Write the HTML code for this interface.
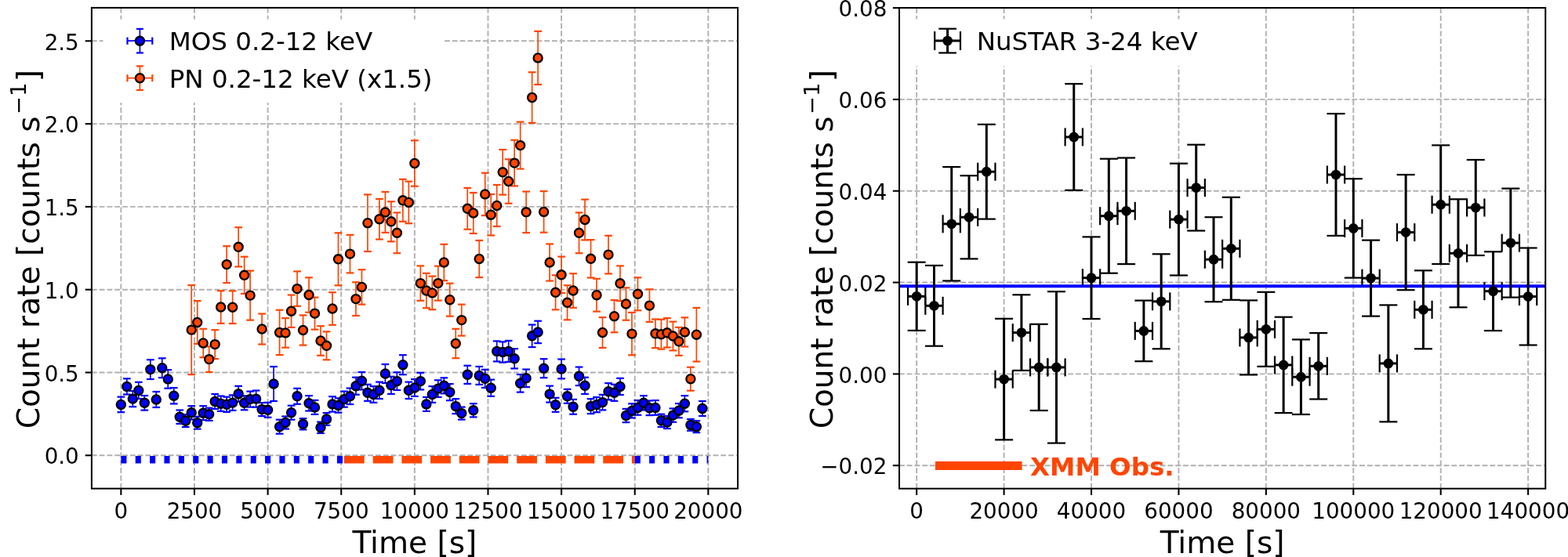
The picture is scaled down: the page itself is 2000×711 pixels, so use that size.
<!DOCTYPE html>
<html><head><meta charset="utf-8"><title>Light curves</title><style>html,body{margin:0;padding:0;background:#fff;width:2000px;height:711px;overflow:hidden}</style></head><body>
<svg width="2000" height="711" viewBox="0 0 2000 711" style="display:block">
<rect width="2000" height="711" fill="#fff"/>
<g font-family="'DejaVu Sans', 'Liberation Sans', sans-serif" fill="#000">
<line x1="154.35" y1="10" x2="154.35" y2="623.6" stroke="#b0b0b0" stroke-width="1.9" stroke-dasharray="6.86 2.925"/>
<line x1="247.97" y1="10" x2="247.97" y2="623.6" stroke="#b0b0b0" stroke-width="1.9" stroke-dasharray="6.86 2.925"/>
<line x1="341.6" y1="10" x2="341.6" y2="623.6" stroke="#b0b0b0" stroke-width="1.9" stroke-dasharray="6.86 2.925"/>
<line x1="435.23" y1="10" x2="435.23" y2="623.6" stroke="#b0b0b0" stroke-width="1.9" stroke-dasharray="6.86 2.925"/>
<line x1="528.85" y1="10" x2="528.85" y2="623.6" stroke="#b0b0b0" stroke-width="1.9" stroke-dasharray="6.86 2.925"/>
<line x1="622.48" y1="10" x2="622.48" y2="623.6" stroke="#b0b0b0" stroke-width="1.9" stroke-dasharray="6.86 2.925"/>
<line x1="716.1" y1="10" x2="716.1" y2="623.6" stroke="#b0b0b0" stroke-width="1.9" stroke-dasharray="6.86 2.925"/>
<line x1="809.73" y1="10" x2="809.73" y2="623.6" stroke="#b0b0b0" stroke-width="1.9" stroke-dasharray="6.86 2.925"/>
<line x1="903.35" y1="10" x2="903.35" y2="623.6" stroke="#b0b0b0" stroke-width="1.9" stroke-dasharray="6.86 2.925"/>
<line x1="116.9" y1="581.28" x2="940.8" y2="581.28" stroke="#b0b0b0" stroke-width="1.9" stroke-dasharray="6.86 2.925"/>
<line x1="116.9" y1="475.49" x2="940.8" y2="475.49" stroke="#b0b0b0" stroke-width="1.9" stroke-dasharray="6.86 2.925"/>
<line x1="116.9" y1="369.7" x2="940.8" y2="369.7" stroke="#b0b0b0" stroke-width="1.9" stroke-dasharray="6.86 2.925"/>
<line x1="116.9" y1="263.9" x2="940.8" y2="263.9" stroke="#b0b0b0" stroke-width="1.9" stroke-dasharray="6.86 2.925"/>
<line x1="116.9" y1="158.11" x2="940.8" y2="158.11" stroke="#b0b0b0" stroke-width="1.9" stroke-dasharray="6.86 2.925"/>
<line x1="116.9" y1="52.32" x2="940.8" y2="52.32" stroke="#b0b0b0" stroke-width="1.9" stroke-dasharray="6.86 2.925"/>
<line x1="154.35" y1="586.7" x2="438.97" y2="586.7" stroke="#0000ff" stroke-width="9.5" stroke-dasharray="7.1 11.27"/>
<line x1="438.97" y1="586.7" x2="809.73" y2="586.7" stroke="#ff4500" stroke-width="9.5" stroke-dasharray="25.8 10.9"/>
<line x1="809.73" y1="586.7" x2="903.35" y2="586.7" stroke="#0000ff" stroke-width="9.5" stroke-dasharray="7.1 11.27"/>
<line x1="149.5" y1="506.6" x2="159.2" y2="506.6" stroke="#0000ff" stroke-width="2.2"/>
<line x1="149.5" y1="526.2" x2="159.2" y2="526.2" stroke="#0000ff" stroke-width="2.2"/>
<line x1="156.99" y1="483.3" x2="166.69" y2="483.3" stroke="#0000ff" stroke-width="2.2"/>
<line x1="156.99" y1="503.5" x2="166.69" y2="503.5" stroke="#0000ff" stroke-width="2.2"/>
<line x1="164.48" y1="499" x2="174.18" y2="499" stroke="#0000ff" stroke-width="2.2"/>
<line x1="164.48" y1="519.2" x2="174.18" y2="519.2" stroke="#0000ff" stroke-width="2.2"/>
<line x1="171.97" y1="487.8" x2="181.67" y2="487.8" stroke="#0000ff" stroke-width="2.2"/>
<line x1="171.97" y1="509" x2="181.67" y2="509" stroke="#0000ff" stroke-width="2.2"/>
<line x1="179.46" y1="505" x2="189.16" y2="505" stroke="#0000ff" stroke-width="2.2"/>
<line x1="179.46" y1="523.6" x2="189.16" y2="523.6" stroke="#0000ff" stroke-width="2.2"/>
<line x1="186.95" y1="459.2" x2="196.65" y2="459.2" stroke="#0000ff" stroke-width="2.2"/>
<line x1="186.95" y1="484" x2="196.65" y2="484" stroke="#0000ff" stroke-width="2.2"/>
<line x1="194.44" y1="500" x2="204.14" y2="500" stroke="#0000ff" stroke-width="2.2"/>
<line x1="194.44" y1="520" x2="204.14" y2="520" stroke="#0000ff" stroke-width="2.2"/>
<line x1="201.93" y1="457.3" x2="211.63" y2="457.3" stroke="#0000ff" stroke-width="2.2"/>
<line x1="201.93" y1="482.1" x2="211.63" y2="482.1" stroke="#0000ff" stroke-width="2.2"/>
<line x1="209.42" y1="472.1" x2="219.12" y2="472.1" stroke="#0000ff" stroke-width="2.2"/>
<line x1="209.42" y1="495.7" x2="219.12" y2="495.7" stroke="#0000ff" stroke-width="2.2"/>
<line x1="216.91" y1="495" x2="226.61" y2="495" stroke="#0000ff" stroke-width="2.2"/>
<line x1="216.91" y1="515.4" x2="226.61" y2="515.4" stroke="#0000ff" stroke-width="2.2"/>
<line x1="224.4" y1="523.5" x2="234.1" y2="523.5" stroke="#0000ff" stroke-width="2.2"/>
<line x1="224.4" y1="540.9" x2="234.1" y2="540.9" stroke="#0000ff" stroke-width="2.2"/>
<line x1="231.89" y1="529.3" x2="241.59" y2="529.3" stroke="#0000ff" stroke-width="2.2"/>
<line x1="231.89" y1="545.1" x2="241.59" y2="545.1" stroke="#0000ff" stroke-width="2.2"/>
<line x1="239.38" y1="518.2" x2="249.08" y2="518.2" stroke="#0000ff" stroke-width="2.2"/>
<line x1="239.38" y1="535.4" x2="249.08" y2="535.4" stroke="#0000ff" stroke-width="2.2"/>
<line x1="246.87" y1="531.8" x2="256.57" y2="531.8" stroke="#0000ff" stroke-width="2.2"/>
<line x1="246.87" y1="547.6" x2="256.57" y2="547.6" stroke="#0000ff" stroke-width="2.2"/>
<line x1="254.36" y1="518.2" x2="264.06" y2="518.2" stroke="#0000ff" stroke-width="2.2"/>
<line x1="254.36" y1="536.2" x2="264.06" y2="536.2" stroke="#0000ff" stroke-width="2.2"/>
<line x1="261.85" y1="520.7" x2="271.55" y2="520.7" stroke="#0000ff" stroke-width="2.2"/>
<line x1="261.85" y1="536.9" x2="271.55" y2="536.9" stroke="#0000ff" stroke-width="2.2"/>
<line x1="269.34" y1="503" x2="279.04" y2="503" stroke="#0000ff" stroke-width="2.2"/>
<line x1="269.34" y1="522" x2="279.04" y2="522" stroke="#0000ff" stroke-width="2.2"/>
<line x1="276.83" y1="505.51" x2="286.53" y2="505.51" stroke="#0000ff" stroke-width="2.2"/>
<line x1="276.83" y1="524.89" x2="286.53" y2="524.89" stroke="#0000ff" stroke-width="2.2"/>
<line x1="284.32" y1="506.68" x2="294.02" y2="506.68" stroke="#0000ff" stroke-width="2.2"/>
<line x1="284.32" y1="525.92" x2="294.02" y2="525.92" stroke="#0000ff" stroke-width="2.2"/>
<line x1="291.81" y1="504.34" x2="301.51" y2="504.34" stroke="#0000ff" stroke-width="2.2"/>
<line x1="291.81" y1="523.86" x2="301.51" y2="523.86" stroke="#0000ff" stroke-width="2.2"/>
<line x1="299.3" y1="492.8" x2="309" y2="492.8" stroke="#0000ff" stroke-width="2.2"/>
<line x1="299.3" y1="512.8" x2="309" y2="512.8" stroke="#0000ff" stroke-width="2.2"/>
<line x1="306.79" y1="505.3" x2="316.49" y2="505.3" stroke="#0000ff" stroke-width="2.2"/>
<line x1="306.79" y1="523.3" x2="316.49" y2="523.3" stroke="#0000ff" stroke-width="2.2"/>
<line x1="314.28" y1="499.6" x2="323.98" y2="499.6" stroke="#0000ff" stroke-width="2.2"/>
<line x1="314.28" y1="519.6" x2="323.98" y2="519.6" stroke="#0000ff" stroke-width="2.2"/>
<line x1="321.77" y1="498.5" x2="331.47" y2="498.5" stroke="#0000ff" stroke-width="2.2"/>
<line x1="321.77" y1="519.7" x2="331.47" y2="519.7" stroke="#0000ff" stroke-width="2.2"/>
<line x1="329.26" y1="514.1" x2="338.96" y2="514.1" stroke="#0000ff" stroke-width="2.2"/>
<line x1="329.26" y1="531.1" x2="338.96" y2="531.1" stroke="#0000ff" stroke-width="2.2"/>
<line x1="336.75" y1="513.8" x2="346.45" y2="513.8" stroke="#0000ff" stroke-width="2.2"/>
<line x1="336.75" y1="532.8" x2="346.45" y2="532.8" stroke="#0000ff" stroke-width="2.2"/>
<line x1="344.24" y1="468" x2="353.94" y2="468" stroke="#0000ff" stroke-width="2.2"/>
<line x1="344.24" y1="512" x2="353.94" y2="512" stroke="#0000ff" stroke-width="2.2"/>
<line x1="351.73" y1="535.7" x2="361.43" y2="535.7" stroke="#0000ff" stroke-width="2.2"/>
<line x1="351.73" y1="553.7" x2="361.43" y2="553.7" stroke="#0000ff" stroke-width="2.2"/>
<line x1="359.22" y1="531.5" x2="368.92" y2="531.5" stroke="#0000ff" stroke-width="2.2"/>
<line x1="359.22" y1="547.5" x2="368.92" y2="547.5" stroke="#0000ff" stroke-width="2.2"/>
<line x1="366.71" y1="517.7" x2="376.41" y2="517.7" stroke="#0000ff" stroke-width="2.2"/>
<line x1="366.71" y1="535.7" x2="376.41" y2="535.7" stroke="#0000ff" stroke-width="2.2"/>
<line x1="374.2" y1="495.8" x2="383.9" y2="495.8" stroke="#0000ff" stroke-width="2.2"/>
<line x1="374.2" y1="515.8" x2="383.9" y2="515.8" stroke="#0000ff" stroke-width="2.2"/>
<line x1="381.69" y1="534.2" x2="391.39" y2="534.2" stroke="#0000ff" stroke-width="2.2"/>
<line x1="381.69" y1="548.4" x2="391.39" y2="548.4" stroke="#0000ff" stroke-width="2.2"/>
<line x1="389.18" y1="505.1" x2="398.88" y2="505.1" stroke="#0000ff" stroke-width="2.2"/>
<line x1="389.18" y1="524.5" x2="398.88" y2="524.5" stroke="#0000ff" stroke-width="2.2"/>
<line x1="396.67" y1="510.9" x2="406.37" y2="510.9" stroke="#0000ff" stroke-width="2.2"/>
<line x1="396.67" y1="528.9" x2="406.37" y2="528.9" stroke="#0000ff" stroke-width="2.2"/>
<line x1="404.16" y1="538.6" x2="413.86" y2="538.6" stroke="#0000ff" stroke-width="2.2"/>
<line x1="404.16" y1="553" x2="413.86" y2="553" stroke="#0000ff" stroke-width="2.2"/>
<line x1="411.65" y1="527.1" x2="421.35" y2="527.1" stroke="#0000ff" stroke-width="2.2"/>
<line x1="411.65" y1="542.9" x2="421.35" y2="542.9" stroke="#0000ff" stroke-width="2.2"/>
<line x1="419.14" y1="506.2" x2="428.84" y2="506.2" stroke="#0000ff" stroke-width="2.2"/>
<line x1="419.14" y1="525.6" x2="428.84" y2="525.6" stroke="#0000ff" stroke-width="2.2"/>
<line x1="426.63" y1="508.3" x2="436.33" y2="508.3" stroke="#0000ff" stroke-width="2.2"/>
<line x1="426.63" y1="526.7" x2="436.33" y2="526.7" stroke="#0000ff" stroke-width="2.2"/>
<line x1="434.12" y1="499.55" x2="443.82" y2="499.55" stroke="#0000ff" stroke-width="2.2"/>
<line x1="434.12" y1="519.65" x2="443.82" y2="519.65" stroke="#0000ff" stroke-width="2.2"/>
<line x1="441.61" y1="495.52" x2="451.31" y2="495.52" stroke="#0000ff" stroke-width="2.2"/>
<line x1="441.61" y1="516.08" x2="451.31" y2="516.08" stroke="#0000ff" stroke-width="2.2"/>
<line x1="449.1" y1="481.67" x2="458.8" y2="481.67" stroke="#0000ff" stroke-width="2.2"/>
<line x1="449.1" y1="503.73" x2="458.8" y2="503.73" stroke="#0000ff" stroke-width="2.2"/>
<line x1="456.59" y1="475" x2="466.29" y2="475" stroke="#0000ff" stroke-width="2.2"/>
<line x1="456.59" y1="497.4" x2="466.29" y2="497.4" stroke="#0000ff" stroke-width="2.2"/>
<line x1="464.08" y1="490.76" x2="473.78" y2="490.76" stroke="#0000ff" stroke-width="2.2"/>
<line x1="464.08" y1="511.84" x2="473.78" y2="511.84" stroke="#0000ff" stroke-width="2.2"/>
<line x1="471.57" y1="493.09" x2="481.27" y2="493.09" stroke="#0000ff" stroke-width="2.2"/>
<line x1="471.57" y1="513.91" x2="481.27" y2="513.91" stroke="#0000ff" stroke-width="2.2"/>
<line x1="479.06" y1="487.59" x2="488.76" y2="487.59" stroke="#0000ff" stroke-width="2.2"/>
<line x1="479.06" y1="509.01" x2="488.76" y2="509.01" stroke="#0000ff" stroke-width="2.2"/>
<line x1="486.55" y1="465" x2="496.25" y2="465" stroke="#0000ff" stroke-width="2.2"/>
<line x1="486.55" y1="489" x2="496.25" y2="489" stroke="#0000ff" stroke-width="2.2"/>
<line x1="494.04" y1="480.72" x2="503.74" y2="480.72" stroke="#0000ff" stroke-width="2.2"/>
<line x1="494.04" y1="502.88" x2="503.74" y2="502.88" stroke="#0000ff" stroke-width="2.2"/>
<line x1="501.53" y1="475.25" x2="511.23" y2="475.25" stroke="#0000ff" stroke-width="2.2"/>
<line x1="501.53" y1="497.95" x2="511.23" y2="497.95" stroke="#0000ff" stroke-width="2.2"/>
<line x1="509.02" y1="453.2" x2="518.72" y2="453.2" stroke="#0000ff" stroke-width="2.2"/>
<line x1="509.02" y1="478.2" x2="518.72" y2="478.2" stroke="#0000ff" stroke-width="2.2"/>
<line x1="516.51" y1="487.59" x2="526.21" y2="487.59" stroke="#0000ff" stroke-width="2.2"/>
<line x1="516.51" y1="509.01" x2="526.21" y2="509.01" stroke="#0000ff" stroke-width="2.2"/>
<line x1="524" y1="484.1" x2="533.7" y2="484.1" stroke="#0000ff" stroke-width="2.2"/>
<line x1="524" y1="505.9" x2="533.7" y2="505.9" stroke="#0000ff" stroke-width="2.2"/>
<line x1="531.49" y1="475.8" x2="541.19" y2="475.8" stroke="#0000ff" stroke-width="2.2"/>
<line x1="531.49" y1="497.4" x2="541.19" y2="497.4" stroke="#0000ff" stroke-width="2.2"/>
<line x1="538.98" y1="506.9" x2="548.68" y2="506.9" stroke="#0000ff" stroke-width="2.2"/>
<line x1="538.98" y1="524.9" x2="548.68" y2="524.9" stroke="#0000ff" stroke-width="2.2"/>
<line x1="546.47" y1="493.09" x2="556.17" y2="493.09" stroke="#0000ff" stroke-width="2.2"/>
<line x1="546.47" y1="513.91" x2="556.17" y2="513.91" stroke="#0000ff" stroke-width="2.2"/>
<line x1="553.96" y1="485.26" x2="563.66" y2="485.26" stroke="#0000ff" stroke-width="2.2"/>
<line x1="553.96" y1="506.94" x2="563.66" y2="506.94" stroke="#0000ff" stroke-width="2.2"/>
<line x1="561.45" y1="482.3" x2="571.15" y2="482.3" stroke="#0000ff" stroke-width="2.2"/>
<line x1="561.45" y1="502.3" x2="571.15" y2="502.3" stroke="#0000ff" stroke-width="2.2"/>
<line x1="568.94" y1="490.02" x2="578.64" y2="490.02" stroke="#0000ff" stroke-width="2.2"/>
<line x1="568.94" y1="511.18" x2="578.64" y2="511.18" stroke="#0000ff" stroke-width="2.2"/>
<line x1="576.43" y1="509.13" x2="586.13" y2="509.13" stroke="#0000ff" stroke-width="2.2"/>
<line x1="576.43" y1="528.07" x2="586.13" y2="528.07" stroke="#0000ff" stroke-width="2.2"/>
<line x1="583.92" y1="519.6" x2="593.62" y2="519.6" stroke="#0000ff" stroke-width="2.2"/>
<line x1="583.92" y1="535.6" x2="593.62" y2="535.6" stroke="#0000ff" stroke-width="2.2"/>
<line x1="591.41" y1="466.7" x2="601.11" y2="466.7" stroke="#0000ff" stroke-width="2.2"/>
<line x1="591.41" y1="489.9" x2="601.11" y2="489.9" stroke="#0000ff" stroke-width="2.2"/>
<line x1="598.9" y1="515.2" x2="608.6" y2="515.2" stroke="#0000ff" stroke-width="2.2"/>
<line x1="598.9" y1="532.4" x2="608.6" y2="532.4" stroke="#0000ff" stroke-width="2.2"/>
<line x1="606.39" y1="467.9" x2="616.09" y2="467.9" stroke="#0000ff" stroke-width="2.2"/>
<line x1="606.39" y1="490.9" x2="616.09" y2="490.9" stroke="#0000ff" stroke-width="2.2"/>
<line x1="613.88" y1="471.77" x2="623.58" y2="471.77" stroke="#0000ff" stroke-width="2.2"/>
<line x1="613.88" y1="494.83" x2="623.58" y2="494.83" stroke="#0000ff" stroke-width="2.2"/>
<line x1="621.37" y1="484.6" x2="631.07" y2="484.6" stroke="#0000ff" stroke-width="2.2"/>
<line x1="621.37" y1="505.8" x2="631.07" y2="505.8" stroke="#0000ff" stroke-width="2.2"/>
<line x1="628.86" y1="435.4" x2="638.56" y2="435.4" stroke="#0000ff" stroke-width="2.2"/>
<line x1="628.86" y1="461.4" x2="638.56" y2="461.4" stroke="#0000ff" stroke-width="2.2"/>
<line x1="636.35" y1="436.37" x2="646.05" y2="436.37" stroke="#0000ff" stroke-width="2.2"/>
<line x1="636.35" y1="462.63" x2="646.05" y2="462.63" stroke="#0000ff" stroke-width="2.2"/>
<line x1="643.84" y1="434.9" x2="653.54" y2="434.9" stroke="#0000ff" stroke-width="2.2"/>
<line x1="643.84" y1="461.9" x2="653.54" y2="461.9" stroke="#0000ff" stroke-width="2.2"/>
<line x1="651.33" y1="445.2" x2="661.03" y2="445.2" stroke="#0000ff" stroke-width="2.2"/>
<line x1="651.33" y1="470.4" x2="661.03" y2="470.4" stroke="#0000ff" stroke-width="2.2"/>
<line x1="658.82" y1="478" x2="668.52" y2="478" stroke="#0000ff" stroke-width="2.2"/>
<line x1="658.82" y1="500.6" x2="668.52" y2="500.6" stroke="#0000ff" stroke-width="2.2"/>
<line x1="666.31" y1="471.5" x2="676.01" y2="471.5" stroke="#0000ff" stroke-width="2.2"/>
<line x1="666.31" y1="494.1" x2="676.01" y2="494.1" stroke="#0000ff" stroke-width="2.2"/>
<line x1="673.8" y1="414.5" x2="683.5" y2="414.5" stroke="#0000ff" stroke-width="2.2"/>
<line x1="673.8" y1="443.1" x2="683.5" y2="443.1" stroke="#0000ff" stroke-width="2.2"/>
<line x1="681.29" y1="409.7" x2="690.99" y2="409.7" stroke="#0000ff" stroke-width="2.2"/>
<line x1="681.29" y1="438.1" x2="690.99" y2="438.1" stroke="#0000ff" stroke-width="2.2"/>
<line x1="688.78" y1="458.2" x2="698.48" y2="458.2" stroke="#0000ff" stroke-width="2.2"/>
<line x1="688.78" y1="482.2" x2="698.48" y2="482.2" stroke="#0000ff" stroke-width="2.2"/>
<line x1="696.27" y1="492.6" x2="705.97" y2="492.6" stroke="#0000ff" stroke-width="2.2"/>
<line x1="696.27" y1="513.6" x2="705.97" y2="513.6" stroke="#0000ff" stroke-width="2.2"/>
<line x1="703.76" y1="507.8" x2="713.46" y2="507.8" stroke="#0000ff" stroke-width="2.2"/>
<line x1="703.76" y1="525.8" x2="713.46" y2="525.8" stroke="#0000ff" stroke-width="2.2"/>
<line x1="711.25" y1="458.5" x2="720.95" y2="458.5" stroke="#0000ff" stroke-width="2.2"/>
<line x1="711.25" y1="483.3" x2="720.95" y2="483.3" stroke="#0000ff" stroke-width="2.2"/>
<line x1="718.74" y1="496.8" x2="728.44" y2="496.8" stroke="#0000ff" stroke-width="2.2"/>
<line x1="718.74" y1="514.8" x2="728.44" y2="514.8" stroke="#0000ff" stroke-width="2.2"/>
<line x1="726.23" y1="509.88" x2="735.93" y2="509.88" stroke="#0000ff" stroke-width="2.2"/>
<line x1="726.23" y1="528.72" x2="735.93" y2="528.72" stroke="#0000ff" stroke-width="2.2"/>
<line x1="733.72" y1="468.5" x2="743.42" y2="468.5" stroke="#0000ff" stroke-width="2.2"/>
<line x1="733.72" y1="492.1" x2="743.42" y2="492.1" stroke="#0000ff" stroke-width="2.2"/>
<line x1="741.21" y1="481.7" x2="750.91" y2="481.7" stroke="#0000ff" stroke-width="2.2"/>
<line x1="741.21" y1="502.9" x2="750.91" y2="502.9" stroke="#0000ff" stroke-width="2.2"/>
<line x1="748.7" y1="509.13" x2="758.4" y2="509.13" stroke="#0000ff" stroke-width="2.2"/>
<line x1="748.7" y1="528.07" x2="758.4" y2="528.07" stroke="#0000ff" stroke-width="2.2"/>
<line x1="756.19" y1="507" x2="765.89" y2="507" stroke="#0000ff" stroke-width="2.2"/>
<line x1="756.19" y1="526.2" x2="765.89" y2="526.2" stroke="#0000ff" stroke-width="2.2"/>
<line x1="763.68" y1="503.8" x2="773.38" y2="503.8" stroke="#0000ff" stroke-width="2.2"/>
<line x1="763.68" y1="523.4" x2="773.38" y2="523.4" stroke="#0000ff" stroke-width="2.2"/>
<line x1="771.17" y1="489.07" x2="780.87" y2="489.07" stroke="#0000ff" stroke-width="2.2"/>
<line x1="771.17" y1="510.33" x2="780.87" y2="510.33" stroke="#0000ff" stroke-width="2.2"/>
<line x1="778.66" y1="490.76" x2="788.36" y2="490.76" stroke="#0000ff" stroke-width="2.2"/>
<line x1="778.66" y1="511.84" x2="788.36" y2="511.84" stroke="#0000ff" stroke-width="2.2"/>
<line x1="786.15" y1="482.8" x2="795.85" y2="482.8" stroke="#0000ff" stroke-width="2.2"/>
<line x1="786.15" y1="504" x2="795.85" y2="504" stroke="#0000ff" stroke-width="2.2"/>
<line x1="793.64" y1="521.87" x2="803.34" y2="521.87" stroke="#0000ff" stroke-width="2.2"/>
<line x1="793.64" y1="539.13" x2="803.34" y2="539.13" stroke="#0000ff" stroke-width="2.2"/>
<line x1="801.13" y1="515.33" x2="810.83" y2="515.33" stroke="#0000ff" stroke-width="2.2"/>
<line x1="801.13" y1="533.47" x2="810.83" y2="533.47" stroke="#0000ff" stroke-width="2.2"/>
<line x1="808.62" y1="511.05" x2="818.32" y2="511.05" stroke="#0000ff" stroke-width="2.2"/>
<line x1="808.62" y1="529.75" x2="818.32" y2="529.75" stroke="#0000ff" stroke-width="2.2"/>
<line x1="816.11" y1="505.1" x2="825.81" y2="505.1" stroke="#0000ff" stroke-width="2.2"/>
<line x1="816.11" y1="523.5" x2="825.81" y2="523.5" stroke="#0000ff" stroke-width="2.2"/>
<line x1="823.6" y1="511.48" x2="833.3" y2="511.48" stroke="#0000ff" stroke-width="2.2"/>
<line x1="823.6" y1="530.12" x2="833.3" y2="530.12" stroke="#0000ff" stroke-width="2.2"/>
<line x1="831.09" y1="511.05" x2="840.79" y2="511.05" stroke="#0000ff" stroke-width="2.2"/>
<line x1="831.09" y1="529.75" x2="840.79" y2="529.75" stroke="#0000ff" stroke-width="2.2"/>
<line x1="838.58" y1="528.66" x2="848.28" y2="528.66" stroke="#0000ff" stroke-width="2.2"/>
<line x1="838.58" y1="544.94" x2="848.28" y2="544.94" stroke="#0000ff" stroke-width="2.2"/>
<line x1="846.07" y1="531.14" x2="855.77" y2="531.14" stroke="#0000ff" stroke-width="2.2"/>
<line x1="846.07" y1="547.06" x2="855.77" y2="547.06" stroke="#0000ff" stroke-width="2.2"/>
<line x1="853.56" y1="521.44" x2="863.26" y2="521.44" stroke="#0000ff" stroke-width="2.2"/>
<line x1="853.56" y1="538.76" x2="863.26" y2="538.76" stroke="#0000ff" stroke-width="2.2"/>
<line x1="861.05" y1="515.11" x2="870.75" y2="515.11" stroke="#0000ff" stroke-width="2.2"/>
<line x1="861.05" y1="533.29" x2="870.75" y2="533.29" stroke="#0000ff" stroke-width="2.2"/>
<line x1="868.54" y1="505.1" x2="878.24" y2="505.1" stroke="#0000ff" stroke-width="2.2"/>
<line x1="868.54" y1="525.3" x2="878.24" y2="525.3" stroke="#0000ff" stroke-width="2.2"/>
<line x1="876.03" y1="535" x2="885.73" y2="535" stroke="#0000ff" stroke-width="2.2"/>
<line x1="876.03" y1="549.8" x2="885.73" y2="549.8" stroke="#0000ff" stroke-width="2.2"/>
<line x1="883.52" y1="537.23" x2="893.22" y2="537.23" stroke="#0000ff" stroke-width="2.2"/>
<line x1="883.52" y1="552.17" x2="893.22" y2="552.17" stroke="#0000ff" stroke-width="2.2"/>
<line x1="891.01" y1="512" x2="900.71" y2="512" stroke="#0000ff" stroke-width="2.2"/>
<line x1="891.01" y1="531" x2="900.71" y2="531" stroke="#0000ff" stroke-width="2.2"/>
<line x1="154.35" y1="506.6" x2="154.35" y2="526.2" stroke="#0000ff" stroke-width="1.7"/>
<line x1="161.84" y1="483.3" x2="161.84" y2="503.5" stroke="#0000ff" stroke-width="1.7"/>
<line x1="169.33" y1="499" x2="169.33" y2="519.2" stroke="#0000ff" stroke-width="1.7"/>
<line x1="176.82" y1="487.8" x2="176.82" y2="509" stroke="#0000ff" stroke-width="1.7"/>
<line x1="184.31" y1="505" x2="184.31" y2="523.6" stroke="#0000ff" stroke-width="1.7"/>
<line x1="191.8" y1="459.2" x2="191.8" y2="484" stroke="#0000ff" stroke-width="1.7"/>
<line x1="199.29" y1="500" x2="199.29" y2="520" stroke="#0000ff" stroke-width="1.7"/>
<line x1="206.78" y1="457.3" x2="206.78" y2="482.1" stroke="#0000ff" stroke-width="1.7"/>
<line x1="214.27" y1="472.1" x2="214.27" y2="495.7" stroke="#0000ff" stroke-width="1.7"/>
<line x1="221.76" y1="495" x2="221.76" y2="515.4" stroke="#0000ff" stroke-width="1.7"/>
<line x1="229.25" y1="523.5" x2="229.25" y2="540.9" stroke="#0000ff" stroke-width="1.7"/>
<line x1="236.74" y1="529.3" x2="236.74" y2="545.1" stroke="#0000ff" stroke-width="1.7"/>
<line x1="244.23" y1="518.2" x2="244.23" y2="535.4" stroke="#0000ff" stroke-width="1.7"/>
<line x1="251.72" y1="531.8" x2="251.72" y2="547.6" stroke="#0000ff" stroke-width="1.7"/>
<line x1="259.21" y1="518.2" x2="259.21" y2="536.2" stroke="#0000ff" stroke-width="1.7"/>
<line x1="266.7" y1="520.7" x2="266.7" y2="536.9" stroke="#0000ff" stroke-width="1.7"/>
<line x1="274.19" y1="503" x2="274.19" y2="522" stroke="#0000ff" stroke-width="1.7"/>
<line x1="281.68" y1="505.51" x2="281.68" y2="524.89" stroke="#0000ff" stroke-width="1.7"/>
<line x1="289.17" y1="506.68" x2="289.17" y2="525.92" stroke="#0000ff" stroke-width="1.7"/>
<line x1="296.66" y1="504.34" x2="296.66" y2="523.86" stroke="#0000ff" stroke-width="1.7"/>
<line x1="304.15" y1="492.8" x2="304.15" y2="512.8" stroke="#0000ff" stroke-width="1.7"/>
<line x1="311.64" y1="505.3" x2="311.64" y2="523.3" stroke="#0000ff" stroke-width="1.7"/>
<line x1="319.13" y1="499.6" x2="319.13" y2="519.6" stroke="#0000ff" stroke-width="1.7"/>
<line x1="326.62" y1="498.5" x2="326.62" y2="519.7" stroke="#0000ff" stroke-width="1.7"/>
<line x1="334.11" y1="514.1" x2="334.11" y2="531.1" stroke="#0000ff" stroke-width="1.7"/>
<line x1="341.6" y1="513.8" x2="341.6" y2="532.8" stroke="#0000ff" stroke-width="1.7"/>
<line x1="349.09" y1="468" x2="349.09" y2="512" stroke="#0000ff" stroke-width="1.7"/>
<line x1="356.58" y1="535.7" x2="356.58" y2="553.7" stroke="#0000ff" stroke-width="1.7"/>
<line x1="364.07" y1="531.5" x2="364.07" y2="547.5" stroke="#0000ff" stroke-width="1.7"/>
<line x1="371.56" y1="517.7" x2="371.56" y2="535.7" stroke="#0000ff" stroke-width="1.7"/>
<line x1="379.05" y1="495.8" x2="379.05" y2="515.8" stroke="#0000ff" stroke-width="1.7"/>
<line x1="386.54" y1="534.2" x2="386.54" y2="548.4" stroke="#0000ff" stroke-width="1.7"/>
<line x1="394.03" y1="505.1" x2="394.03" y2="524.5" stroke="#0000ff" stroke-width="1.7"/>
<line x1="401.52" y1="510.9" x2="401.52" y2="528.9" stroke="#0000ff" stroke-width="1.7"/>
<line x1="409.01" y1="538.6" x2="409.01" y2="553" stroke="#0000ff" stroke-width="1.7"/>
<line x1="416.5" y1="527.1" x2="416.5" y2="542.9" stroke="#0000ff" stroke-width="1.7"/>
<line x1="423.99" y1="506.2" x2="423.99" y2="525.6" stroke="#0000ff" stroke-width="1.7"/>
<line x1="431.48" y1="508.3" x2="431.48" y2="526.7" stroke="#0000ff" stroke-width="1.7"/>
<line x1="438.97" y1="499.55" x2="438.97" y2="519.65" stroke="#0000ff" stroke-width="1.7"/>
<line x1="446.46" y1="495.52" x2="446.46" y2="516.08" stroke="#0000ff" stroke-width="1.7"/>
<line x1="453.95" y1="481.67" x2="453.95" y2="503.73" stroke="#0000ff" stroke-width="1.7"/>
<line x1="461.44" y1="475" x2="461.44" y2="497.4" stroke="#0000ff" stroke-width="1.7"/>
<line x1="468.93" y1="490.76" x2="468.93" y2="511.84" stroke="#0000ff" stroke-width="1.7"/>
<line x1="476.42" y1="493.09" x2="476.42" y2="513.91" stroke="#0000ff" stroke-width="1.7"/>
<line x1="483.91" y1="487.59" x2="483.91" y2="509.01" stroke="#0000ff" stroke-width="1.7"/>
<line x1="491.4" y1="465" x2="491.4" y2="489" stroke="#0000ff" stroke-width="1.7"/>
<line x1="498.89" y1="480.72" x2="498.89" y2="502.88" stroke="#0000ff" stroke-width="1.7"/>
<line x1="506.38" y1="475.25" x2="506.38" y2="497.95" stroke="#0000ff" stroke-width="1.7"/>
<line x1="513.87" y1="453.2" x2="513.87" y2="478.2" stroke="#0000ff" stroke-width="1.7"/>
<line x1="521.36" y1="487.59" x2="521.36" y2="509.01" stroke="#0000ff" stroke-width="1.7"/>
<line x1="528.85" y1="484.1" x2="528.85" y2="505.9" stroke="#0000ff" stroke-width="1.7"/>
<line x1="536.34" y1="475.8" x2="536.34" y2="497.4" stroke="#0000ff" stroke-width="1.7"/>
<line x1="543.83" y1="506.9" x2="543.83" y2="524.9" stroke="#0000ff" stroke-width="1.7"/>
<line x1="551.32" y1="493.09" x2="551.32" y2="513.91" stroke="#0000ff" stroke-width="1.7"/>
<line x1="558.81" y1="485.26" x2="558.81" y2="506.94" stroke="#0000ff" stroke-width="1.7"/>
<line x1="566.3" y1="482.3" x2="566.3" y2="502.3" stroke="#0000ff" stroke-width="1.7"/>
<line x1="573.79" y1="490.02" x2="573.79" y2="511.18" stroke="#0000ff" stroke-width="1.7"/>
<line x1="581.28" y1="509.13" x2="581.28" y2="528.07" stroke="#0000ff" stroke-width="1.7"/>
<line x1="588.77" y1="519.6" x2="588.77" y2="535.6" stroke="#0000ff" stroke-width="1.7"/>
<line x1="596.26" y1="466.7" x2="596.26" y2="489.9" stroke="#0000ff" stroke-width="1.7"/>
<line x1="603.75" y1="515.2" x2="603.75" y2="532.4" stroke="#0000ff" stroke-width="1.7"/>
<line x1="611.24" y1="467.9" x2="611.24" y2="490.9" stroke="#0000ff" stroke-width="1.7"/>
<line x1="618.73" y1="471.77" x2="618.73" y2="494.83" stroke="#0000ff" stroke-width="1.7"/>
<line x1="626.22" y1="484.6" x2="626.22" y2="505.8" stroke="#0000ff" stroke-width="1.7"/>
<line x1="633.71" y1="435.4" x2="633.71" y2="461.4" stroke="#0000ff" stroke-width="1.7"/>
<line x1="641.2" y1="436.37" x2="641.2" y2="462.63" stroke="#0000ff" stroke-width="1.7"/>
<line x1="648.69" y1="434.9" x2="648.69" y2="461.9" stroke="#0000ff" stroke-width="1.7"/>
<line x1="656.18" y1="445.2" x2="656.18" y2="470.4" stroke="#0000ff" stroke-width="1.7"/>
<line x1="663.67" y1="478" x2="663.67" y2="500.6" stroke="#0000ff" stroke-width="1.7"/>
<line x1="671.16" y1="471.5" x2="671.16" y2="494.1" stroke="#0000ff" stroke-width="1.7"/>
<line x1="678.65" y1="414.5" x2="678.65" y2="443.1" stroke="#0000ff" stroke-width="1.7"/>
<line x1="686.14" y1="409.7" x2="686.14" y2="438.1" stroke="#0000ff" stroke-width="1.7"/>
<line x1="693.63" y1="458.2" x2="693.63" y2="482.2" stroke="#0000ff" stroke-width="1.7"/>
<line x1="701.12" y1="492.6" x2="701.12" y2="513.6" stroke="#0000ff" stroke-width="1.7"/>
<line x1="708.61" y1="507.8" x2="708.61" y2="525.8" stroke="#0000ff" stroke-width="1.7"/>
<line x1="716.1" y1="458.5" x2="716.1" y2="483.3" stroke="#0000ff" stroke-width="1.7"/>
<line x1="723.59" y1="496.8" x2="723.59" y2="514.8" stroke="#0000ff" stroke-width="1.7"/>
<line x1="731.08" y1="509.88" x2="731.08" y2="528.72" stroke="#0000ff" stroke-width="1.7"/>
<line x1="738.57" y1="468.5" x2="738.57" y2="492.1" stroke="#0000ff" stroke-width="1.7"/>
<line x1="746.06" y1="481.7" x2="746.06" y2="502.9" stroke="#0000ff" stroke-width="1.7"/>
<line x1="753.55" y1="509.13" x2="753.55" y2="528.07" stroke="#0000ff" stroke-width="1.7"/>
<line x1="761.04" y1="507" x2="761.04" y2="526.2" stroke="#0000ff" stroke-width="1.7"/>
<line x1="768.53" y1="503.8" x2="768.53" y2="523.4" stroke="#0000ff" stroke-width="1.7"/>
<line x1="776.02" y1="489.07" x2="776.02" y2="510.33" stroke="#0000ff" stroke-width="1.7"/>
<line x1="783.51" y1="490.76" x2="783.51" y2="511.84" stroke="#0000ff" stroke-width="1.7"/>
<line x1="791" y1="482.8" x2="791" y2="504" stroke="#0000ff" stroke-width="1.7"/>
<line x1="798.49" y1="521.87" x2="798.49" y2="539.13" stroke="#0000ff" stroke-width="1.7"/>
<line x1="805.98" y1="515.33" x2="805.98" y2="533.47" stroke="#0000ff" stroke-width="1.7"/>
<line x1="813.47" y1="511.05" x2="813.47" y2="529.75" stroke="#0000ff" stroke-width="1.7"/>
<line x1="820.96" y1="505.1" x2="820.96" y2="523.5" stroke="#0000ff" stroke-width="1.7"/>
<line x1="828.45" y1="511.48" x2="828.45" y2="530.12" stroke="#0000ff" stroke-width="1.7"/>
<line x1="835.94" y1="511.05" x2="835.94" y2="529.75" stroke="#0000ff" stroke-width="1.7"/>
<line x1="843.43" y1="528.66" x2="843.43" y2="544.94" stroke="#0000ff" stroke-width="1.7"/>
<line x1="850.92" y1="531.14" x2="850.92" y2="547.06" stroke="#0000ff" stroke-width="1.7"/>
<line x1="858.41" y1="521.44" x2="858.41" y2="538.76" stroke="#0000ff" stroke-width="1.7"/>
<line x1="865.9" y1="515.11" x2="865.9" y2="533.29" stroke="#0000ff" stroke-width="1.7"/>
<line x1="873.39" y1="505.1" x2="873.39" y2="525.3" stroke="#0000ff" stroke-width="1.7"/>
<line x1="880.88" y1="535" x2="880.88" y2="549.8" stroke="#0000ff" stroke-width="1.7"/>
<line x1="888.37" y1="537.23" x2="888.37" y2="552.17" stroke="#0000ff" stroke-width="1.7"/>
<line x1="895.86" y1="512" x2="895.86" y2="531" stroke="#0000ff" stroke-width="1.7"/>
<circle cx="154.35" cy="516.4" r="5.55" fill="#0000ff" stroke="#000" stroke-width="2.3"/>
<circle cx="161.84" cy="493.4" r="5.55" fill="#0000ff" stroke="#000" stroke-width="2.3"/>
<circle cx="169.33" cy="509.1" r="5.55" fill="#0000ff" stroke="#000" stroke-width="2.3"/>
<circle cx="176.82" cy="498.4" r="5.55" fill="#0000ff" stroke="#000" stroke-width="2.3"/>
<circle cx="184.31" cy="514.3" r="5.55" fill="#0000ff" stroke="#000" stroke-width="2.3"/>
<circle cx="191.8" cy="471.6" r="5.55" fill="#0000ff" stroke="#000" stroke-width="2.3"/>
<circle cx="199.29" cy="510" r="5.55" fill="#0000ff" stroke="#000" stroke-width="2.3"/>
<circle cx="206.78" cy="469.7" r="5.55" fill="#0000ff" stroke="#000" stroke-width="2.3"/>
<circle cx="214.27" cy="483.9" r="5.55" fill="#0000ff" stroke="#000" stroke-width="2.3"/>
<circle cx="221.76" cy="505.2" r="5.55" fill="#0000ff" stroke="#000" stroke-width="2.3"/>
<circle cx="229.25" cy="532.2" r="5.55" fill="#0000ff" stroke="#000" stroke-width="2.3"/>
<circle cx="236.74" cy="537.2" r="5.55" fill="#0000ff" stroke="#000" stroke-width="2.3"/>
<circle cx="244.23" cy="526.8" r="5.55" fill="#0000ff" stroke="#000" stroke-width="2.3"/>
<circle cx="251.72" cy="539.7" r="5.55" fill="#0000ff" stroke="#000" stroke-width="2.3"/>
<circle cx="259.21" cy="527.2" r="5.55" fill="#0000ff" stroke="#000" stroke-width="2.3"/>
<circle cx="266.7" cy="528.8" r="5.55" fill="#0000ff" stroke="#000" stroke-width="2.3"/>
<circle cx="274.19" cy="512.5" r="5.55" fill="#0000ff" stroke="#000" stroke-width="2.3"/>
<circle cx="281.68" cy="515.2" r="5.55" fill="#0000ff" stroke="#000" stroke-width="2.3"/>
<circle cx="289.17" cy="516.3" r="5.55" fill="#0000ff" stroke="#000" stroke-width="2.3"/>
<circle cx="296.66" cy="514.1" r="5.55" fill="#0000ff" stroke="#000" stroke-width="2.3"/>
<circle cx="304.15" cy="502.8" r="5.55" fill="#0000ff" stroke="#000" stroke-width="2.3"/>
<circle cx="311.64" cy="514.3" r="5.55" fill="#0000ff" stroke="#000" stroke-width="2.3"/>
<circle cx="319.13" cy="509.6" r="5.55" fill="#0000ff" stroke="#000" stroke-width="2.3"/>
<circle cx="326.62" cy="509.1" r="5.55" fill="#0000ff" stroke="#000" stroke-width="2.3"/>
<circle cx="334.11" cy="522.6" r="5.55" fill="#0000ff" stroke="#000" stroke-width="2.3"/>
<circle cx="341.6" cy="523.3" r="5.55" fill="#0000ff" stroke="#000" stroke-width="2.3"/>
<circle cx="349.09" cy="490" r="5.55" fill="#0000ff" stroke="#000" stroke-width="2.3"/>
<circle cx="356.58" cy="544.7" r="5.55" fill="#0000ff" stroke="#000" stroke-width="2.3"/>
<circle cx="364.07" cy="539.5" r="5.55" fill="#0000ff" stroke="#000" stroke-width="2.3"/>
<circle cx="371.56" cy="526.7" r="5.55" fill="#0000ff" stroke="#000" stroke-width="2.3"/>
<circle cx="379.05" cy="505.8" r="5.55" fill="#0000ff" stroke="#000" stroke-width="2.3"/>
<circle cx="386.54" cy="541.3" r="5.55" fill="#0000ff" stroke="#000" stroke-width="2.3"/>
<circle cx="394.03" cy="514.8" r="5.55" fill="#0000ff" stroke="#000" stroke-width="2.3"/>
<circle cx="401.52" cy="519.9" r="5.55" fill="#0000ff" stroke="#000" stroke-width="2.3"/>
<circle cx="409.01" cy="545.8" r="5.55" fill="#0000ff" stroke="#000" stroke-width="2.3"/>
<circle cx="416.5" cy="535" r="5.55" fill="#0000ff" stroke="#000" stroke-width="2.3"/>
<circle cx="423.99" cy="515.9" r="5.55" fill="#0000ff" stroke="#000" stroke-width="2.3"/>
<circle cx="431.48" cy="517.5" r="5.55" fill="#0000ff" stroke="#000" stroke-width="2.3"/>
<circle cx="438.97" cy="509.6" r="5.55" fill="#0000ff" stroke="#000" stroke-width="2.3"/>
<circle cx="446.46" cy="505.8" r="5.55" fill="#0000ff" stroke="#000" stroke-width="2.3"/>
<circle cx="453.95" cy="492.7" r="5.55" fill="#0000ff" stroke="#000" stroke-width="2.3"/>
<circle cx="461.44" cy="486.2" r="5.55" fill="#0000ff" stroke="#000" stroke-width="2.3"/>
<circle cx="468.93" cy="501.3" r="5.55" fill="#0000ff" stroke="#000" stroke-width="2.3"/>
<circle cx="476.42" cy="503.5" r="5.55" fill="#0000ff" stroke="#000" stroke-width="2.3"/>
<circle cx="483.91" cy="498.3" r="5.55" fill="#0000ff" stroke="#000" stroke-width="2.3"/>
<circle cx="491.4" cy="477" r="5.55" fill="#0000ff" stroke="#000" stroke-width="2.3"/>
<circle cx="498.89" cy="491.8" r="5.55" fill="#0000ff" stroke="#000" stroke-width="2.3"/>
<circle cx="506.38" cy="486.6" r="5.55" fill="#0000ff" stroke="#000" stroke-width="2.3"/>
<circle cx="513.87" cy="465.7" r="5.55" fill="#0000ff" stroke="#000" stroke-width="2.3"/>
<circle cx="521.36" cy="498.3" r="5.55" fill="#0000ff" stroke="#000" stroke-width="2.3"/>
<circle cx="528.85" cy="495" r="5.55" fill="#0000ff" stroke="#000" stroke-width="2.3"/>
<circle cx="536.34" cy="486.6" r="5.55" fill="#0000ff" stroke="#000" stroke-width="2.3"/>
<circle cx="543.83" cy="515.9" r="5.55" fill="#0000ff" stroke="#000" stroke-width="2.3"/>
<circle cx="551.32" cy="503.5" r="5.55" fill="#0000ff" stroke="#000" stroke-width="2.3"/>
<circle cx="558.81" cy="496.1" r="5.55" fill="#0000ff" stroke="#000" stroke-width="2.3"/>
<circle cx="566.3" cy="492.3" r="5.55" fill="#0000ff" stroke="#000" stroke-width="2.3"/>
<circle cx="573.79" cy="500.6" r="5.55" fill="#0000ff" stroke="#000" stroke-width="2.3"/>
<circle cx="581.28" cy="518.6" r="5.55" fill="#0000ff" stroke="#000" stroke-width="2.3"/>
<circle cx="588.77" cy="527.6" r="5.55" fill="#0000ff" stroke="#000" stroke-width="2.3"/>
<circle cx="596.26" cy="478.3" r="5.55" fill="#0000ff" stroke="#000" stroke-width="2.3"/>
<circle cx="603.75" cy="523.8" r="5.55" fill="#0000ff" stroke="#000" stroke-width="2.3"/>
<circle cx="611.24" cy="479.4" r="5.55" fill="#0000ff" stroke="#000" stroke-width="2.3"/>
<circle cx="618.73" cy="483.3" r="5.55" fill="#0000ff" stroke="#000" stroke-width="2.3"/>
<circle cx="626.22" cy="495.2" r="5.55" fill="#0000ff" stroke="#000" stroke-width="2.3"/>
<circle cx="633.71" cy="448.4" r="5.55" fill="#0000ff" stroke="#000" stroke-width="2.3"/>
<circle cx="641.2" cy="449.5" r="5.55" fill="#0000ff" stroke="#000" stroke-width="2.3"/>
<circle cx="648.69" cy="448.4" r="5.55" fill="#0000ff" stroke="#000" stroke-width="2.3"/>
<circle cx="656.18" cy="457.8" r="5.55" fill="#0000ff" stroke="#000" stroke-width="2.3"/>
<circle cx="663.67" cy="489.3" r="5.55" fill="#0000ff" stroke="#000" stroke-width="2.3"/>
<circle cx="671.16" cy="482.8" r="5.55" fill="#0000ff" stroke="#000" stroke-width="2.3"/>
<circle cx="678.65" cy="428.8" r="5.55" fill="#0000ff" stroke="#000" stroke-width="2.3"/>
<circle cx="686.14" cy="423.9" r="5.55" fill="#0000ff" stroke="#000" stroke-width="2.3"/>
<circle cx="693.63" cy="470.2" r="5.55" fill="#0000ff" stroke="#000" stroke-width="2.3"/>
<circle cx="701.12" cy="503.1" r="5.55" fill="#0000ff" stroke="#000" stroke-width="2.3"/>
<circle cx="708.61" cy="516.8" r="5.55" fill="#0000ff" stroke="#000" stroke-width="2.3"/>
<circle cx="716.1" cy="470.9" r="5.55" fill="#0000ff" stroke="#000" stroke-width="2.3"/>
<circle cx="723.59" cy="505.8" r="5.55" fill="#0000ff" stroke="#000" stroke-width="2.3"/>
<circle cx="731.08" cy="519.3" r="5.55" fill="#0000ff" stroke="#000" stroke-width="2.3"/>
<circle cx="738.57" cy="480.3" r="5.55" fill="#0000ff" stroke="#000" stroke-width="2.3"/>
<circle cx="746.06" cy="492.3" r="5.55" fill="#0000ff" stroke="#000" stroke-width="2.3"/>
<circle cx="753.55" cy="518.6" r="5.55" fill="#0000ff" stroke="#000" stroke-width="2.3"/>
<circle cx="761.04" cy="516.6" r="5.55" fill="#0000ff" stroke="#000" stroke-width="2.3"/>
<circle cx="768.53" cy="513.6" r="5.55" fill="#0000ff" stroke="#000" stroke-width="2.3"/>
<circle cx="776.02" cy="499.7" r="5.55" fill="#0000ff" stroke="#000" stroke-width="2.3"/>
<circle cx="783.51" cy="501.3" r="5.55" fill="#0000ff" stroke="#000" stroke-width="2.3"/>
<circle cx="791" cy="493.4" r="5.55" fill="#0000ff" stroke="#000" stroke-width="2.3"/>
<circle cx="798.49" cy="530.5" r="5.55" fill="#0000ff" stroke="#000" stroke-width="2.3"/>
<circle cx="805.98" cy="524.4" r="5.55" fill="#0000ff" stroke="#000" stroke-width="2.3"/>
<circle cx="813.47" cy="520.4" r="5.55" fill="#0000ff" stroke="#000" stroke-width="2.3"/>
<circle cx="820.96" cy="514.3" r="5.55" fill="#0000ff" stroke="#000" stroke-width="2.3"/>
<circle cx="828.45" cy="520.8" r="5.55" fill="#0000ff" stroke="#000" stroke-width="2.3"/>
<circle cx="835.94" cy="520.4" r="5.55" fill="#0000ff" stroke="#000" stroke-width="2.3"/>
<circle cx="843.43" cy="536.8" r="5.55" fill="#0000ff" stroke="#000" stroke-width="2.3"/>
<circle cx="850.92" cy="539.1" r="5.55" fill="#0000ff" stroke="#000" stroke-width="2.3"/>
<circle cx="858.41" cy="530.1" r="5.55" fill="#0000ff" stroke="#000" stroke-width="2.3"/>
<circle cx="865.9" cy="524.2" r="5.55" fill="#0000ff" stroke="#000" stroke-width="2.3"/>
<circle cx="873.39" cy="515.2" r="5.55" fill="#0000ff" stroke="#000" stroke-width="2.3"/>
<circle cx="880.88" cy="542.4" r="5.55" fill="#0000ff" stroke="#000" stroke-width="2.3"/>
<circle cx="888.37" cy="544.7" r="5.55" fill="#0000ff" stroke="#000" stroke-width="2.3"/>
<circle cx="895.86" cy="521.5" r="5.55" fill="#0000ff" stroke="#000" stroke-width="2.3"/>
<line x1="239.38" y1="364.1" x2="249.08" y2="364.1" stroke="#ff4500" stroke-width="2.2"/>
<line x1="239.38" y1="478.1" x2="249.08" y2="478.1" stroke="#ff4500" stroke-width="2.2"/>
<line x1="246.87" y1="384.1" x2="256.57" y2="384.1" stroke="#ff4500" stroke-width="2.2"/>
<line x1="246.87" y1="438.9" x2="256.57" y2="438.9" stroke="#ff4500" stroke-width="2.2"/>
<line x1="254.36" y1="419.8" x2="264.06" y2="419.8" stroke="#ff4500" stroke-width="2.2"/>
<line x1="254.36" y1="456.2" x2="264.06" y2="456.2" stroke="#ff4500" stroke-width="2.2"/>
<line x1="261.85" y1="442.3" x2="271.55" y2="442.3" stroke="#ff4500" stroke-width="2.2"/>
<line x1="261.85" y1="474.9" x2="271.55" y2="474.9" stroke="#ff4500" stroke-width="2.2"/>
<line x1="269.34" y1="421.1" x2="279.04" y2="421.1" stroke="#ff4500" stroke-width="2.2"/>
<line x1="269.34" y1="458.1" x2="279.04" y2="458.1" stroke="#ff4500" stroke-width="2.2"/>
<line x1="276.83" y1="371.2" x2="286.53" y2="371.2" stroke="#ff4500" stroke-width="2.2"/>
<line x1="276.83" y1="412.8" x2="286.53" y2="412.8" stroke="#ff4500" stroke-width="2.2"/>
<line x1="284.32" y1="314.2" x2="294.02" y2="314.2" stroke="#ff4500" stroke-width="2.2"/>
<line x1="284.32" y1="361" x2="294.02" y2="361" stroke="#ff4500" stroke-width="2.2"/>
<line x1="291.81" y1="371.4" x2="301.51" y2="371.4" stroke="#ff4500" stroke-width="2.2"/>
<line x1="291.81" y1="413" x2="301.51" y2="413" stroke="#ff4500" stroke-width="2.2"/>
<line x1="299.3" y1="290.2" x2="309" y2="290.2" stroke="#ff4500" stroke-width="2.2"/>
<line x1="299.3" y1="340.4" x2="309" y2="340.4" stroke="#ff4500" stroke-width="2.2"/>
<line x1="306.79" y1="327.7" x2="316.49" y2="327.7" stroke="#ff4500" stroke-width="2.2"/>
<line x1="306.79" y1="374.9" x2="316.49" y2="374.9" stroke="#ff4500" stroke-width="2.2"/>
<line x1="314.28" y1="345.6" x2="323.98" y2="345.6" stroke="#ff4500" stroke-width="2.2"/>
<line x1="314.28" y1="408.6" x2="323.98" y2="408.6" stroke="#ff4500" stroke-width="2.2"/>
<line x1="329.26" y1="400.5" x2="338.96" y2="400.5" stroke="#ff4500" stroke-width="2.2"/>
<line x1="329.26" y1="439.5" x2="338.96" y2="439.5" stroke="#ff4500" stroke-width="2.2"/>
<line x1="351.73" y1="395.7" x2="361.43" y2="395.7" stroke="#ff4500" stroke-width="2.2"/>
<line x1="351.73" y1="453.1" x2="361.43" y2="453.1" stroke="#ff4500" stroke-width="2.2"/>
<line x1="359.22" y1="406.1" x2="368.92" y2="406.1" stroke="#ff4500" stroke-width="2.2"/>
<line x1="359.22" y1="443.7" x2="368.92" y2="443.7" stroke="#ff4500" stroke-width="2.2"/>
<line x1="366.71" y1="376.5" x2="376.41" y2="376.5" stroke="#ff4500" stroke-width="2.2"/>
<line x1="366.71" y1="417.9" x2="376.41" y2="417.9" stroke="#ff4500" stroke-width="2.2"/>
<line x1="374.2" y1="346.4" x2="383.9" y2="346.4" stroke="#ff4500" stroke-width="2.2"/>
<line x1="374.2" y1="390.8" x2="383.9" y2="390.8" stroke="#ff4500" stroke-width="2.2"/>
<line x1="381.69" y1="402.4" x2="391.39" y2="402.4" stroke="#ff4500" stroke-width="2.2"/>
<line x1="381.69" y1="440.6" x2="391.39" y2="440.6" stroke="#ff4500" stroke-width="2.2"/>
<line x1="389.18" y1="354.3" x2="398.88" y2="354.3" stroke="#ff4500" stroke-width="2.2"/>
<line x1="389.18" y1="398.7" x2="398.88" y2="398.7" stroke="#ff4500" stroke-width="2.2"/>
<line x1="396.67" y1="379.6" x2="406.37" y2="379.6" stroke="#ff4500" stroke-width="2.2"/>
<line x1="396.67" y1="420.6" x2="406.37" y2="420.6" stroke="#ff4500" stroke-width="2.2"/>
<line x1="404.16" y1="416.2" x2="413.86" y2="416.2" stroke="#ff4500" stroke-width="2.2"/>
<line x1="404.16" y1="453.8" x2="413.86" y2="453.8" stroke="#ff4500" stroke-width="2.2"/>
<line x1="411.65" y1="423.3" x2="421.35" y2="423.3" stroke="#ff4500" stroke-width="2.2"/>
<line x1="411.65" y1="459.3" x2="421.35" y2="459.3" stroke="#ff4500" stroke-width="2.2"/>
<line x1="419.14" y1="373.2" x2="428.84" y2="373.2" stroke="#ff4500" stroke-width="2.2"/>
<line x1="419.14" y1="414.8" x2="428.84" y2="414.8" stroke="#ff4500" stroke-width="2.2"/>
<line x1="426.63" y1="297.3" x2="436.33" y2="297.3" stroke="#ff4500" stroke-width="2.2"/>
<line x1="426.63" y1="364.3" x2="436.33" y2="364.3" stroke="#ff4500" stroke-width="2.2"/>
<line x1="441.61" y1="299.8" x2="451.31" y2="299.8" stroke="#ff4500" stroke-width="2.2"/>
<line x1="441.61" y1="348.4" x2="451.31" y2="348.4" stroke="#ff4500" stroke-width="2.2"/>
<line x1="449.1" y1="360.2" x2="458.8" y2="360.2" stroke="#ff4500" stroke-width="2.2"/>
<line x1="449.1" y1="403" x2="458.8" y2="403" stroke="#ff4500" stroke-width="2.2"/>
<line x1="456.59" y1="344.2" x2="466.29" y2="344.2" stroke="#ff4500" stroke-width="2.2"/>
<line x1="456.59" y1="388.6" x2="466.29" y2="388.6" stroke="#ff4500" stroke-width="2.2"/>
<line x1="464.08" y1="248.4" x2="473.78" y2="248.4" stroke="#ff4500" stroke-width="2.2"/>
<line x1="464.08" y1="321" x2="473.78" y2="321" stroke="#ff4500" stroke-width="2.2"/>
<line x1="479.06" y1="253.9" x2="488.76" y2="253.9" stroke="#ff4500" stroke-width="2.2"/>
<line x1="479.06" y1="305.5" x2="488.76" y2="305.5" stroke="#ff4500" stroke-width="2.2"/>
<line x1="486.55" y1="244.9" x2="496.25" y2="244.9" stroke="#ff4500" stroke-width="2.2"/>
<line x1="486.55" y1="296.9" x2="496.25" y2="296.9" stroke="#ff4500" stroke-width="2.2"/>
<line x1="494.04" y1="257.3" x2="503.74" y2="257.3" stroke="#ff4500" stroke-width="2.2"/>
<line x1="494.04" y1="308.3" x2="503.74" y2="308.3" stroke="#ff4500" stroke-width="2.2"/>
<line x1="501.53" y1="271.4" x2="511.23" y2="271.4" stroke="#ff4500" stroke-width="2.2"/>
<line x1="501.53" y1="323.2" x2="511.23" y2="323.2" stroke="#ff4500" stroke-width="2.2"/>
<line x1="509.02" y1="228.8" x2="518.72" y2="228.8" stroke="#ff4500" stroke-width="2.2"/>
<line x1="509.02" y1="282.8" x2="518.72" y2="282.8" stroke="#ff4500" stroke-width="2.2"/>
<line x1="516.51" y1="231.6" x2="526.21" y2="231.6" stroke="#ff4500" stroke-width="2.2"/>
<line x1="516.51" y1="285.2" x2="526.21" y2="285.2" stroke="#ff4500" stroke-width="2.2"/>
<line x1="524" y1="179.3" x2="533.7" y2="179.3" stroke="#ff4500" stroke-width="2.2"/>
<line x1="524" y1="237.7" x2="533.7" y2="237.7" stroke="#ff4500" stroke-width="2.2"/>
<line x1="531.49" y1="339.4" x2="541.19" y2="339.4" stroke="#ff4500" stroke-width="2.2"/>
<line x1="531.49" y1="383.8" x2="541.19" y2="383.8" stroke="#ff4500" stroke-width="2.2"/>
<line x1="538.98" y1="348.8" x2="548.68" y2="348.8" stroke="#ff4500" stroke-width="2.2"/>
<line x1="538.98" y1="393.2" x2="548.68" y2="393.2" stroke="#ff4500" stroke-width="2.2"/>
<line x1="546.47" y1="352.6" x2="556.17" y2="352.6" stroke="#ff4500" stroke-width="2.2"/>
<line x1="546.47" y1="395.2" x2="556.17" y2="395.2" stroke="#ff4500" stroke-width="2.2"/>
<line x1="553.96" y1="339.6" x2="563.66" y2="339.6" stroke="#ff4500" stroke-width="2.2"/>
<line x1="553.96" y1="383.6" x2="563.66" y2="383.6" stroke="#ff4500" stroke-width="2.2"/>
<line x1="561.45" y1="311.8" x2="571.15" y2="311.8" stroke="#ff4500" stroke-width="2.2"/>
<line x1="561.45" y1="358.2" x2="571.15" y2="358.2" stroke="#ff4500" stroke-width="2.2"/>
<line x1="568.94" y1="361.7" x2="578.64" y2="361.7" stroke="#ff4500" stroke-width="2.2"/>
<line x1="568.94" y1="403.7" x2="578.64" y2="403.7" stroke="#ff4500" stroke-width="2.2"/>
<line x1="576.43" y1="419.8" x2="586.13" y2="419.8" stroke="#ff4500" stroke-width="2.2"/>
<line x1="576.43" y1="457.2" x2="586.13" y2="457.2" stroke="#ff4500" stroke-width="2.2"/>
<line x1="583.92" y1="388.6" x2="593.62" y2="388.6" stroke="#ff4500" stroke-width="2.2"/>
<line x1="583.92" y1="428.6" x2="593.62" y2="428.6" stroke="#ff4500" stroke-width="2.2"/>
<line x1="591.41" y1="239.9" x2="601.11" y2="239.9" stroke="#ff4500" stroke-width="2.2"/>
<line x1="591.41" y1="292.7" x2="601.11" y2="292.7" stroke="#ff4500" stroke-width="2.2"/>
<line x1="598.9" y1="246" x2="608.6" y2="246" stroke="#ff4500" stroke-width="2.2"/>
<line x1="598.9" y1="298" x2="608.6" y2="298" stroke="#ff4500" stroke-width="2.2"/>
<line x1="606.39" y1="306.9" x2="616.09" y2="306.9" stroke="#ff4500" stroke-width="2.2"/>
<line x1="606.39" y1="354.1" x2="616.09" y2="354.1" stroke="#ff4500" stroke-width="2.2"/>
<line x1="613.88" y1="220.7" x2="623.58" y2="220.7" stroke="#ff4500" stroke-width="2.2"/>
<line x1="613.88" y1="275.1" x2="623.58" y2="275.1" stroke="#ff4500" stroke-width="2.2"/>
<line x1="621.37" y1="247.9" x2="631.07" y2="247.9" stroke="#ff4500" stroke-width="2.2"/>
<line x1="621.37" y1="300.5" x2="631.07" y2="300.5" stroke="#ff4500" stroke-width="2.2"/>
<line x1="628.86" y1="236" x2="638.56" y2="236" stroke="#ff4500" stroke-width="2.2"/>
<line x1="628.86" y1="289" x2="638.56" y2="289" stroke="#ff4500" stroke-width="2.2"/>
<line x1="636.35" y1="191" x2="646.05" y2="191" stroke="#ff4500" stroke-width="2.2"/>
<line x1="636.35" y1="248.6" x2="646.05" y2="248.6" stroke="#ff4500" stroke-width="2.2"/>
<line x1="643.84" y1="203.3" x2="653.54" y2="203.3" stroke="#ff4500" stroke-width="2.2"/>
<line x1="643.84" y1="259.7" x2="653.54" y2="259.7" stroke="#ff4500" stroke-width="2.2"/>
<line x1="651.33" y1="178.8" x2="661.03" y2="178.8" stroke="#ff4500" stroke-width="2.2"/>
<line x1="651.33" y1="237.4" x2="661.03" y2="237.4" stroke="#ff4500" stroke-width="2.2"/>
<line x1="658.82" y1="155.6" x2="668.52" y2="155.6" stroke="#ff4500" stroke-width="2.2"/>
<line x1="658.82" y1="215.6" x2="668.52" y2="215.6" stroke="#ff4500" stroke-width="2.2"/>
<line x1="666.31" y1="244.5" x2="676.01" y2="244.5" stroke="#ff4500" stroke-width="2.2"/>
<line x1="666.31" y1="297.1" x2="676.01" y2="297.1" stroke="#ff4500" stroke-width="2.2"/>
<line x1="673.8" y1="92.2" x2="683.5" y2="92.2" stroke="#ff4500" stroke-width="2.2"/>
<line x1="673.8" y1="156.8" x2="683.5" y2="156.8" stroke="#ff4500" stroke-width="2.2"/>
<line x1="681.29" y1="39.9" x2="690.99" y2="39.9" stroke="#ff4500" stroke-width="2.2"/>
<line x1="681.29" y1="107.9" x2="690.99" y2="107.9" stroke="#ff4500" stroke-width="2.2"/>
<line x1="688.78" y1="244.1" x2="698.48" y2="244.1" stroke="#ff4500" stroke-width="2.2"/>
<line x1="688.78" y1="296.7" x2="698.48" y2="296.7" stroke="#ff4500" stroke-width="2.2"/>
<line x1="696.27" y1="311.4" x2="705.97" y2="311.4" stroke="#ff4500" stroke-width="2.2"/>
<line x1="696.27" y1="358.6" x2="705.97" y2="358.6" stroke="#ff4500" stroke-width="2.2"/>
<line x1="703.76" y1="351.3" x2="713.46" y2="351.3" stroke="#ff4500" stroke-width="2.2"/>
<line x1="703.76" y1="395.3" x2="713.46" y2="395.3" stroke="#ff4500" stroke-width="2.2"/>
<line x1="711.25" y1="327.6" x2="720.95" y2="327.6" stroke="#ff4500" stroke-width="2.2"/>
<line x1="711.25" y1="374" x2="720.95" y2="374" stroke="#ff4500" stroke-width="2.2"/>
<line x1="718.74" y1="364.3" x2="728.44" y2="364.3" stroke="#ff4500" stroke-width="2.2"/>
<line x1="718.74" y1="408.3" x2="728.44" y2="408.3" stroke="#ff4500" stroke-width="2.2"/>
<line x1="726.23" y1="349.2" x2="735.93" y2="349.2" stroke="#ff4500" stroke-width="2.2"/>
<line x1="726.23" y1="392.8" x2="735.93" y2="392.8" stroke="#ff4500" stroke-width="2.2"/>
<line x1="733.72" y1="271.4" x2="743.42" y2="271.4" stroke="#ff4500" stroke-width="2.2"/>
<line x1="733.72" y1="323.2" x2="743.42" y2="323.2" stroke="#ff4500" stroke-width="2.2"/>
<line x1="741.21" y1="254.6" x2="750.91" y2="254.6" stroke="#ff4500" stroke-width="2.2"/>
<line x1="741.21" y1="306.4" x2="750.91" y2="306.4" stroke="#ff4500" stroke-width="2.2"/>
<line x1="748.7" y1="306.1" x2="758.4" y2="306.1" stroke="#ff4500" stroke-width="2.2"/>
<line x1="748.7" y1="354.5" x2="758.4" y2="354.5" stroke="#ff4500" stroke-width="2.2"/>
<line x1="756.19" y1="355.8" x2="765.89" y2="355.8" stroke="#ff4500" stroke-width="2.2"/>
<line x1="756.19" y1="397.6" x2="765.89" y2="397.6" stroke="#ff4500" stroke-width="2.2"/>
<line x1="763.68" y1="405.1" x2="773.38" y2="405.1" stroke="#ff4500" stroke-width="2.2"/>
<line x1="763.68" y1="443.9" x2="773.38" y2="443.9" stroke="#ff4500" stroke-width="2.2"/>
<line x1="771.17" y1="300.8" x2="780.87" y2="300.8" stroke="#ff4500" stroke-width="2.2"/>
<line x1="771.17" y1="349.4" x2="780.87" y2="349.4" stroke="#ff4500" stroke-width="2.2"/>
<line x1="778.66" y1="383.1" x2="788.36" y2="383.1" stroke="#ff4500" stroke-width="2.2"/>
<line x1="778.66" y1="424.3" x2="788.36" y2="424.3" stroke="#ff4500" stroke-width="2.2"/>
<line x1="786.15" y1="339.4" x2="795.85" y2="339.4" stroke="#ff4500" stroke-width="2.2"/>
<line x1="786.15" y1="384.2" x2="795.85" y2="384.2" stroke="#ff4500" stroke-width="2.2"/>
<line x1="793.64" y1="367.3" x2="803.34" y2="367.3" stroke="#ff4500" stroke-width="2.2"/>
<line x1="793.64" y1="408.7" x2="803.34" y2="408.7" stroke="#ff4500" stroke-width="2.2"/>
<line x1="801.13" y1="398.9" x2="810.83" y2="398.9" stroke="#ff4500" stroke-width="2.2"/>
<line x1="801.13" y1="453.3" x2="810.83" y2="453.3" stroke="#ff4500" stroke-width="2.2"/>
<line x1="808.62" y1="354.3" x2="818.32" y2="354.3" stroke="#ff4500" stroke-width="2.2"/>
<line x1="808.62" y1="396.3" x2="818.32" y2="396.3" stroke="#ff4500" stroke-width="2.2"/>
<line x1="823.6" y1="369.3" x2="833.3" y2="369.3" stroke="#ff4500" stroke-width="2.2"/>
<line x1="823.6" y1="410.9" x2="833.3" y2="410.9" stroke="#ff4500" stroke-width="2.2"/>
<line x1="831.09" y1="407.5" x2="840.79" y2="407.5" stroke="#ff4500" stroke-width="2.2"/>
<line x1="831.09" y1="444.1" x2="840.79" y2="444.1" stroke="#ff4500" stroke-width="2.2"/>
<line x1="838.58" y1="407.7" x2="848.28" y2="407.7" stroke="#ff4500" stroke-width="2.2"/>
<line x1="838.58" y1="445.7" x2="848.28" y2="445.7" stroke="#ff4500" stroke-width="2.2"/>
<line x1="846.07" y1="406.1" x2="855.77" y2="406.1" stroke="#ff4500" stroke-width="2.2"/>
<line x1="846.07" y1="443.5" x2="855.77" y2="443.5" stroke="#ff4500" stroke-width="2.2"/>
<line x1="853.56" y1="410.6" x2="863.26" y2="410.6" stroke="#ff4500" stroke-width="2.2"/>
<line x1="853.56" y1="447.4" x2="863.26" y2="447.4" stroke="#ff4500" stroke-width="2.2"/>
<line x1="861.05" y1="417.8" x2="870.75" y2="417.8" stroke="#ff4500" stroke-width="2.2"/>
<line x1="861.05" y1="453.8" x2="870.75" y2="453.8" stroke="#ff4500" stroke-width="2.2"/>
<line x1="868.54" y1="405.3" x2="878.24" y2="405.3" stroke="#ff4500" stroke-width="2.2"/>
<line x1="868.54" y1="442.5" x2="878.24" y2="442.5" stroke="#ff4500" stroke-width="2.2"/>
<line x1="876.03" y1="468.7" x2="885.73" y2="468.7" stroke="#ff4500" stroke-width="2.2"/>
<line x1="876.03" y1="498.7" x2="885.73" y2="498.7" stroke="#ff4500" stroke-width="2.2"/>
<line x1="883.52" y1="392.9" x2="893.22" y2="392.9" stroke="#ff4500" stroke-width="2.2"/>
<line x1="883.52" y1="461.5" x2="893.22" y2="461.5" stroke="#ff4500" stroke-width="2.2"/>
<line x1="244.23" y1="364.1" x2="244.23" y2="478.1" stroke="#ff4500" stroke-width="1.7"/>
<line x1="251.72" y1="384.1" x2="251.72" y2="438.9" stroke="#ff4500" stroke-width="1.7"/>
<line x1="259.21" y1="419.8" x2="259.21" y2="456.2" stroke="#ff4500" stroke-width="1.7"/>
<line x1="266.7" y1="442.3" x2="266.7" y2="474.9" stroke="#ff4500" stroke-width="1.7"/>
<line x1="274.19" y1="421.1" x2="274.19" y2="458.1" stroke="#ff4500" stroke-width="1.7"/>
<line x1="281.68" y1="371.2" x2="281.68" y2="412.8" stroke="#ff4500" stroke-width="1.7"/>
<line x1="289.17" y1="314.2" x2="289.17" y2="361" stroke="#ff4500" stroke-width="1.7"/>
<line x1="296.66" y1="371.4" x2="296.66" y2="413" stroke="#ff4500" stroke-width="1.7"/>
<line x1="304.15" y1="290.2" x2="304.15" y2="340.4" stroke="#ff4500" stroke-width="1.7"/>
<line x1="311.64" y1="327.7" x2="311.64" y2="374.9" stroke="#ff4500" stroke-width="1.7"/>
<line x1="319.13" y1="345.6" x2="319.13" y2="408.6" stroke="#ff4500" stroke-width="1.7"/>
<line x1="334.11" y1="400.5" x2="334.11" y2="439.5" stroke="#ff4500" stroke-width="1.7"/>
<line x1="356.58" y1="395.7" x2="356.58" y2="453.1" stroke="#ff4500" stroke-width="1.7"/>
<line x1="364.07" y1="406.1" x2="364.07" y2="443.7" stroke="#ff4500" stroke-width="1.7"/>
<line x1="371.56" y1="376.5" x2="371.56" y2="417.9" stroke="#ff4500" stroke-width="1.7"/>
<line x1="379.05" y1="346.4" x2="379.05" y2="390.8" stroke="#ff4500" stroke-width="1.7"/>
<line x1="386.54" y1="402.4" x2="386.54" y2="440.6" stroke="#ff4500" stroke-width="1.7"/>
<line x1="394.03" y1="354.3" x2="394.03" y2="398.7" stroke="#ff4500" stroke-width="1.7"/>
<line x1="401.52" y1="379.6" x2="401.52" y2="420.6" stroke="#ff4500" stroke-width="1.7"/>
<line x1="409.01" y1="416.2" x2="409.01" y2="453.8" stroke="#ff4500" stroke-width="1.7"/>
<line x1="416.5" y1="423.3" x2="416.5" y2="459.3" stroke="#ff4500" stroke-width="1.7"/>
<line x1="423.99" y1="373.2" x2="423.99" y2="414.8" stroke="#ff4500" stroke-width="1.7"/>
<line x1="431.48" y1="297.3" x2="431.48" y2="364.3" stroke="#ff4500" stroke-width="1.7"/>
<line x1="446.46" y1="299.8" x2="446.46" y2="348.4" stroke="#ff4500" stroke-width="1.7"/>
<line x1="453.95" y1="360.2" x2="453.95" y2="403" stroke="#ff4500" stroke-width="1.7"/>
<line x1="461.44" y1="344.2" x2="461.44" y2="388.6" stroke="#ff4500" stroke-width="1.7"/>
<line x1="468.93" y1="248.4" x2="468.93" y2="321" stroke="#ff4500" stroke-width="1.7"/>
<line x1="483.91" y1="253.9" x2="483.91" y2="305.5" stroke="#ff4500" stroke-width="1.7"/>
<line x1="491.4" y1="244.9" x2="491.4" y2="296.9" stroke="#ff4500" stroke-width="1.7"/>
<line x1="498.89" y1="257.3" x2="498.89" y2="308.3" stroke="#ff4500" stroke-width="1.7"/>
<line x1="506.38" y1="271.4" x2="506.38" y2="323.2" stroke="#ff4500" stroke-width="1.7"/>
<line x1="513.87" y1="228.8" x2="513.87" y2="282.8" stroke="#ff4500" stroke-width="1.7"/>
<line x1="521.36" y1="231.6" x2="521.36" y2="285.2" stroke="#ff4500" stroke-width="1.7"/>
<line x1="528.85" y1="179.3" x2="528.85" y2="237.7" stroke="#ff4500" stroke-width="1.7"/>
<line x1="536.34" y1="339.4" x2="536.34" y2="383.8" stroke="#ff4500" stroke-width="1.7"/>
<line x1="543.83" y1="348.8" x2="543.83" y2="393.2" stroke="#ff4500" stroke-width="1.7"/>
<line x1="551.32" y1="352.6" x2="551.32" y2="395.2" stroke="#ff4500" stroke-width="1.7"/>
<line x1="558.81" y1="339.6" x2="558.81" y2="383.6" stroke="#ff4500" stroke-width="1.7"/>
<line x1="566.3" y1="311.8" x2="566.3" y2="358.2" stroke="#ff4500" stroke-width="1.7"/>
<line x1="573.79" y1="361.7" x2="573.79" y2="403.7" stroke="#ff4500" stroke-width="1.7"/>
<line x1="581.28" y1="419.8" x2="581.28" y2="457.2" stroke="#ff4500" stroke-width="1.7"/>
<line x1="588.77" y1="388.6" x2="588.77" y2="428.6" stroke="#ff4500" stroke-width="1.7"/>
<line x1="596.26" y1="239.9" x2="596.26" y2="292.7" stroke="#ff4500" stroke-width="1.7"/>
<line x1="603.75" y1="246" x2="603.75" y2="298" stroke="#ff4500" stroke-width="1.7"/>
<line x1="611.24" y1="306.9" x2="611.24" y2="354.1" stroke="#ff4500" stroke-width="1.7"/>
<line x1="618.73" y1="220.7" x2="618.73" y2="275.1" stroke="#ff4500" stroke-width="1.7"/>
<line x1="626.22" y1="247.9" x2="626.22" y2="300.5" stroke="#ff4500" stroke-width="1.7"/>
<line x1="633.71" y1="236" x2="633.71" y2="289" stroke="#ff4500" stroke-width="1.7"/>
<line x1="641.2" y1="191" x2="641.2" y2="248.6" stroke="#ff4500" stroke-width="1.7"/>
<line x1="648.69" y1="203.3" x2="648.69" y2="259.7" stroke="#ff4500" stroke-width="1.7"/>
<line x1="656.18" y1="178.8" x2="656.18" y2="237.4" stroke="#ff4500" stroke-width="1.7"/>
<line x1="663.67" y1="155.6" x2="663.67" y2="215.6" stroke="#ff4500" stroke-width="1.7"/>
<line x1="671.16" y1="244.5" x2="671.16" y2="297.1" stroke="#ff4500" stroke-width="1.7"/>
<line x1="678.65" y1="92.2" x2="678.65" y2="156.8" stroke="#ff4500" stroke-width="1.7"/>
<line x1="686.14" y1="39.9" x2="686.14" y2="107.9" stroke="#ff4500" stroke-width="1.7"/>
<line x1="693.63" y1="244.1" x2="693.63" y2="296.7" stroke="#ff4500" stroke-width="1.7"/>
<line x1="701.12" y1="311.4" x2="701.12" y2="358.6" stroke="#ff4500" stroke-width="1.7"/>
<line x1="708.61" y1="351.3" x2="708.61" y2="395.3" stroke="#ff4500" stroke-width="1.7"/>
<line x1="716.1" y1="327.6" x2="716.1" y2="374" stroke="#ff4500" stroke-width="1.7"/>
<line x1="723.59" y1="364.3" x2="723.59" y2="408.3" stroke="#ff4500" stroke-width="1.7"/>
<line x1="731.08" y1="349.2" x2="731.08" y2="392.8" stroke="#ff4500" stroke-width="1.7"/>
<line x1="738.57" y1="271.4" x2="738.57" y2="323.2" stroke="#ff4500" stroke-width="1.7"/>
<line x1="746.06" y1="254.6" x2="746.06" y2="306.4" stroke="#ff4500" stroke-width="1.7"/>
<line x1="753.55" y1="306.1" x2="753.55" y2="354.5" stroke="#ff4500" stroke-width="1.7"/>
<line x1="761.04" y1="355.8" x2="761.04" y2="397.6" stroke="#ff4500" stroke-width="1.7"/>
<line x1="768.53" y1="405.1" x2="768.53" y2="443.9" stroke="#ff4500" stroke-width="1.7"/>
<line x1="776.02" y1="300.8" x2="776.02" y2="349.4" stroke="#ff4500" stroke-width="1.7"/>
<line x1="783.51" y1="383.1" x2="783.51" y2="424.3" stroke="#ff4500" stroke-width="1.7"/>
<line x1="791" y1="339.4" x2="791" y2="384.2" stroke="#ff4500" stroke-width="1.7"/>
<line x1="798.49" y1="367.3" x2="798.49" y2="408.7" stroke="#ff4500" stroke-width="1.7"/>
<line x1="805.98" y1="398.9" x2="805.98" y2="453.3" stroke="#ff4500" stroke-width="1.7"/>
<line x1="813.47" y1="354.3" x2="813.47" y2="396.3" stroke="#ff4500" stroke-width="1.7"/>
<line x1="828.45" y1="369.3" x2="828.45" y2="410.9" stroke="#ff4500" stroke-width="1.7"/>
<line x1="835.94" y1="407.5" x2="835.94" y2="444.1" stroke="#ff4500" stroke-width="1.7"/>
<line x1="843.43" y1="407.7" x2="843.43" y2="445.7" stroke="#ff4500" stroke-width="1.7"/>
<line x1="850.92" y1="406.1" x2="850.92" y2="443.5" stroke="#ff4500" stroke-width="1.7"/>
<line x1="858.41" y1="410.6" x2="858.41" y2="447.4" stroke="#ff4500" stroke-width="1.7"/>
<line x1="865.9" y1="417.8" x2="865.9" y2="453.8" stroke="#ff4500" stroke-width="1.7"/>
<line x1="873.39" y1="405.3" x2="873.39" y2="442.5" stroke="#ff4500" stroke-width="1.7"/>
<line x1="880.88" y1="468.7" x2="880.88" y2="498.7" stroke="#ff4500" stroke-width="1.7"/>
<line x1="888.37" y1="392.9" x2="888.37" y2="461.5" stroke="#ff4500" stroke-width="1.7"/>
<circle cx="244.23" cy="421.1" r="5.55" fill="#ff4500" stroke="#000" stroke-width="2.3"/>
<circle cx="251.72" cy="411.5" r="5.55" fill="#ff4500" stroke="#000" stroke-width="2.3"/>
<circle cx="259.21" cy="438" r="5.55" fill="#ff4500" stroke="#000" stroke-width="2.3"/>
<circle cx="266.7" cy="458.6" r="5.55" fill="#ff4500" stroke="#000" stroke-width="2.3"/>
<circle cx="274.19" cy="439.6" r="5.55" fill="#ff4500" stroke="#000" stroke-width="2.3"/>
<circle cx="281.68" cy="392" r="5.55" fill="#ff4500" stroke="#000" stroke-width="2.3"/>
<circle cx="289.17" cy="337.6" r="5.55" fill="#ff4500" stroke="#000" stroke-width="2.3"/>
<circle cx="296.66" cy="392.2" r="5.55" fill="#ff4500" stroke="#000" stroke-width="2.3"/>
<circle cx="304.15" cy="315.3" r="5.55" fill="#ff4500" stroke="#000" stroke-width="2.3"/>
<circle cx="311.64" cy="351.3" r="5.55" fill="#ff4500" stroke="#000" stroke-width="2.3"/>
<circle cx="319.13" cy="377.1" r="5.55" fill="#ff4500" stroke="#000" stroke-width="2.3"/>
<circle cx="334.11" cy="420" r="5.55" fill="#ff4500" stroke="#000" stroke-width="2.3"/>
<circle cx="356.58" cy="424.4" r="5.55" fill="#ff4500" stroke="#000" stroke-width="2.3"/>
<circle cx="364.07" cy="424.9" r="5.55" fill="#ff4500" stroke="#000" stroke-width="2.3"/>
<circle cx="371.56" cy="397.2" r="5.55" fill="#ff4500" stroke="#000" stroke-width="2.3"/>
<circle cx="379.05" cy="368.6" r="5.55" fill="#ff4500" stroke="#000" stroke-width="2.3"/>
<circle cx="386.54" cy="421.5" r="5.55" fill="#ff4500" stroke="#000" stroke-width="2.3"/>
<circle cx="394.03" cy="376.5" r="5.55" fill="#ff4500" stroke="#000" stroke-width="2.3"/>
<circle cx="401.52" cy="400.1" r="5.55" fill="#ff4500" stroke="#000" stroke-width="2.3"/>
<circle cx="409.01" cy="435" r="5.55" fill="#ff4500" stroke="#000" stroke-width="2.3"/>
<circle cx="416.5" cy="441.3" r="5.55" fill="#ff4500" stroke="#000" stroke-width="2.3"/>
<circle cx="423.99" cy="394" r="5.55" fill="#ff4500" stroke="#000" stroke-width="2.3"/>
<circle cx="431.48" cy="330.8" r="5.55" fill="#ff4500" stroke="#000" stroke-width="2.3"/>
<circle cx="446.46" cy="324.1" r="5.55" fill="#ff4500" stroke="#000" stroke-width="2.3"/>
<circle cx="453.95" cy="381.6" r="5.55" fill="#ff4500" stroke="#000" stroke-width="2.3"/>
<circle cx="461.44" cy="366.4" r="5.55" fill="#ff4500" stroke="#000" stroke-width="2.3"/>
<circle cx="468.93" cy="284.7" r="5.55" fill="#ff4500" stroke="#000" stroke-width="2.3"/>
<circle cx="483.91" cy="279.7" r="5.55" fill="#ff4500" stroke="#000" stroke-width="2.3"/>
<circle cx="491.4" cy="270.9" r="5.55" fill="#ff4500" stroke="#000" stroke-width="2.3"/>
<circle cx="498.89" cy="282.8" r="5.55" fill="#ff4500" stroke="#000" stroke-width="2.3"/>
<circle cx="506.38" cy="297.3" r="5.55" fill="#ff4500" stroke="#000" stroke-width="2.3"/>
<circle cx="513.87" cy="255.8" r="5.55" fill="#ff4500" stroke="#000" stroke-width="2.3"/>
<circle cx="521.36" cy="258.4" r="5.55" fill="#ff4500" stroke="#000" stroke-width="2.3"/>
<circle cx="528.85" cy="208.5" r="5.55" fill="#ff4500" stroke="#000" stroke-width="2.3"/>
<circle cx="536.34" cy="361.6" r="5.55" fill="#ff4500" stroke="#000" stroke-width="2.3"/>
<circle cx="543.83" cy="371" r="5.55" fill="#ff4500" stroke="#000" stroke-width="2.3"/>
<circle cx="551.32" cy="373.9" r="5.55" fill="#ff4500" stroke="#000" stroke-width="2.3"/>
<circle cx="558.81" cy="361.6" r="5.55" fill="#ff4500" stroke="#000" stroke-width="2.3"/>
<circle cx="566.3" cy="335" r="5.55" fill="#ff4500" stroke="#000" stroke-width="2.3"/>
<circle cx="573.79" cy="382.7" r="5.55" fill="#ff4500" stroke="#000" stroke-width="2.3"/>
<circle cx="581.28" cy="438.5" r="5.55" fill="#ff4500" stroke="#000" stroke-width="2.3"/>
<circle cx="588.77" cy="408.6" r="5.55" fill="#ff4500" stroke="#000" stroke-width="2.3"/>
<circle cx="596.26" cy="266.3" r="5.55" fill="#ff4500" stroke="#000" stroke-width="2.3"/>
<circle cx="603.75" cy="272" r="5.55" fill="#ff4500" stroke="#000" stroke-width="2.3"/>
<circle cx="611.24" cy="330.5" r="5.55" fill="#ff4500" stroke="#000" stroke-width="2.3"/>
<circle cx="618.73" cy="247.9" r="5.55" fill="#ff4500" stroke="#000" stroke-width="2.3"/>
<circle cx="626.22" cy="274.2" r="5.55" fill="#ff4500" stroke="#000" stroke-width="2.3"/>
<circle cx="633.71" cy="262.5" r="5.55" fill="#ff4500" stroke="#000" stroke-width="2.3"/>
<circle cx="641.2" cy="219.8" r="5.55" fill="#ff4500" stroke="#000" stroke-width="2.3"/>
<circle cx="648.69" cy="231.5" r="5.55" fill="#ff4500" stroke="#000" stroke-width="2.3"/>
<circle cx="656.18" cy="208.1" r="5.55" fill="#ff4500" stroke="#000" stroke-width="2.3"/>
<circle cx="663.67" cy="185.6" r="5.55" fill="#ff4500" stroke="#000" stroke-width="2.3"/>
<circle cx="671.16" cy="270.8" r="5.55" fill="#ff4500" stroke="#000" stroke-width="2.3"/>
<circle cx="678.65" cy="124.5" r="5.55" fill="#ff4500" stroke="#000" stroke-width="2.3"/>
<circle cx="686.14" cy="73.9" r="5.55" fill="#ff4500" stroke="#000" stroke-width="2.3"/>
<circle cx="693.63" cy="270.4" r="5.55" fill="#ff4500" stroke="#000" stroke-width="2.3"/>
<circle cx="701.12" cy="335" r="5.55" fill="#ff4500" stroke="#000" stroke-width="2.3"/>
<circle cx="708.61" cy="373.3" r="5.55" fill="#ff4500" stroke="#000" stroke-width="2.3"/>
<circle cx="716.1" cy="350.8" r="5.55" fill="#ff4500" stroke="#000" stroke-width="2.3"/>
<circle cx="723.59" cy="386.3" r="5.55" fill="#ff4500" stroke="#000" stroke-width="2.3"/>
<circle cx="731.08" cy="371" r="5.55" fill="#ff4500" stroke="#000" stroke-width="2.3"/>
<circle cx="738.57" cy="297.3" r="5.55" fill="#ff4500" stroke="#000" stroke-width="2.3"/>
<circle cx="746.06" cy="280.5" r="5.55" fill="#ff4500" stroke="#000" stroke-width="2.3"/>
<circle cx="753.55" cy="330.3" r="5.55" fill="#ff4500" stroke="#000" stroke-width="2.3"/>
<circle cx="761.04" cy="376.7" r="5.55" fill="#ff4500" stroke="#000" stroke-width="2.3"/>
<circle cx="768.53" cy="424.5" r="5.55" fill="#ff4500" stroke="#000" stroke-width="2.3"/>
<circle cx="776.02" cy="325.1" r="5.55" fill="#ff4500" stroke="#000" stroke-width="2.3"/>
<circle cx="783.51" cy="403.7" r="5.55" fill="#ff4500" stroke="#000" stroke-width="2.3"/>
<circle cx="791" cy="361.8" r="5.55" fill="#ff4500" stroke="#000" stroke-width="2.3"/>
<circle cx="798.49" cy="388" r="5.55" fill="#ff4500" stroke="#000" stroke-width="2.3"/>
<circle cx="805.98" cy="426.1" r="5.55" fill="#ff4500" stroke="#000" stroke-width="2.3"/>
<circle cx="813.47" cy="375.3" r="5.55" fill="#ff4500" stroke="#000" stroke-width="2.3"/>
<circle cx="828.45" cy="390.1" r="5.55" fill="#ff4500" stroke="#000" stroke-width="2.3"/>
<circle cx="835.94" cy="425.8" r="5.55" fill="#ff4500" stroke="#000" stroke-width="2.3"/>
<circle cx="843.43" cy="426.7" r="5.55" fill="#ff4500" stroke="#000" stroke-width="2.3"/>
<circle cx="850.92" cy="424.8" r="5.55" fill="#ff4500" stroke="#000" stroke-width="2.3"/>
<circle cx="858.41" cy="429" r="5.55" fill="#ff4500" stroke="#000" stroke-width="2.3"/>
<circle cx="865.9" cy="435.8" r="5.55" fill="#ff4500" stroke="#000" stroke-width="2.3"/>
<circle cx="873.39" cy="423.9" r="5.55" fill="#ff4500" stroke="#000" stroke-width="2.3"/>
<circle cx="880.88" cy="483.7" r="5.55" fill="#ff4500" stroke="#000" stroke-width="2.3"/>
<circle cx="888.37" cy="427.2" r="5.55" fill="#ff4500" stroke="#000" stroke-width="2.3"/>
<line x1="154.35" y1="623.65" x2="154.35" y2="631.85" stroke="#000" stroke-width="2.1"/>
<text x="154.35" y="661.5" font-size="27.78" text-anchor="middle">0</text>
<line x1="247.97" y1="623.65" x2="247.97" y2="631.85" stroke="#000" stroke-width="2.1"/>
<text x="247.97" y="661.5" font-size="27.78" text-anchor="middle">2500</text>
<line x1="341.6" y1="623.65" x2="341.6" y2="631.85" stroke="#000" stroke-width="2.1"/>
<text x="341.6" y="661.5" font-size="27.78" text-anchor="middle">5000</text>
<line x1="435.23" y1="623.65" x2="435.23" y2="631.85" stroke="#000" stroke-width="2.1"/>
<text x="435.23" y="661.5" font-size="27.78" text-anchor="middle">7500</text>
<line x1="528.85" y1="623.65" x2="528.85" y2="631.85" stroke="#000" stroke-width="2.1"/>
<text x="528.85" y="661.5" font-size="27.78" text-anchor="middle">10000</text>
<line x1="622.48" y1="623.65" x2="622.48" y2="631.85" stroke="#000" stroke-width="2.1"/>
<text x="622.48" y="661.5" font-size="27.78" text-anchor="middle">12500</text>
<line x1="716.1" y1="623.65" x2="716.1" y2="631.85" stroke="#000" stroke-width="2.1"/>
<text x="716.1" y="661.5" font-size="27.78" text-anchor="middle">15000</text>
<line x1="809.73" y1="623.65" x2="809.73" y2="631.85" stroke="#000" stroke-width="2.1"/>
<text x="809.73" y="661.5" font-size="27.78" text-anchor="middle">17500</text>
<line x1="903.35" y1="623.65" x2="903.35" y2="631.85" stroke="#000" stroke-width="2.1"/>
<text x="903.35" y="661.5" font-size="27.78" text-anchor="middle">20000</text>
<line x1="116.9" y1="581.28" x2="108.7" y2="581.28" stroke="#000" stroke-width="2.1"/>
<text x="100.8" y="592.48" font-size="27.78" text-anchor="end">0.0</text>
<line x1="116.9" y1="475.49" x2="108.7" y2="475.49" stroke="#000" stroke-width="2.1"/>
<text x="100.8" y="486.69" font-size="27.78" text-anchor="end">0.5</text>
<line x1="116.9" y1="369.7" x2="108.7" y2="369.7" stroke="#000" stroke-width="2.1"/>
<text x="100.8" y="380.9" font-size="27.78" text-anchor="end">1.0</text>
<line x1="116.9" y1="263.9" x2="108.7" y2="263.9" stroke="#000" stroke-width="2.1"/>
<text x="100.8" y="275.1" font-size="27.78" text-anchor="end">1.5</text>
<line x1="116.9" y1="158.11" x2="108.7" y2="158.11" stroke="#000" stroke-width="2.1"/>
<text x="100.8" y="169.31" font-size="27.78" text-anchor="end">2.0</text>
<line x1="116.9" y1="52.32" x2="108.7" y2="52.32" stroke="#000" stroke-width="2.1"/>
<text x="100.8" y="63.52" font-size="27.78" text-anchor="end">2.5</text>
<rect x="116.9" y="9.9" width="824.15" height="613.75" fill="none" stroke="#000" stroke-width="2"/>
<rect x="131.5" y="24.7" width="434.5" height="106.5" fill="#fff"/>
<line x1="162.5" y1="52.2" x2="194.3" y2="52.2" stroke="#0000ff" stroke-width="1.7"/>
<line x1="178.4" y1="36.9" x2="178.4" y2="67.5" stroke="#0000ff" stroke-width="1.7"/>
<line x1="173.9" y1="36.9" x2="182.9" y2="36.9" stroke="#0000ff" stroke-width="2.2"/>
<line x1="173.9" y1="67.5" x2="182.9" y2="67.5" stroke="#0000ff" stroke-width="2.2"/>
<line x1="162.5" y1="47.6" x2="162.5" y2="56.8" stroke="#0000ff" stroke-width="2.2"/>
<line x1="194.3" y1="47.6" x2="194.3" y2="56.8" stroke="#0000ff" stroke-width="2.2"/>
<circle cx="178.4" cy="52.2" r="5.55" fill="#0000ff" stroke="#000" stroke-width="2.3"/>
<text x="215.7" y="64" font-size="32.5" text-anchor="start">MOS 0.2-12 keV</text>
<line x1="162.5" y1="99.7" x2="194.3" y2="99.7" stroke="#ff4500" stroke-width="1.7"/>
<line x1="178.4" y1="84.4" x2="178.4" y2="115" stroke="#ff4500" stroke-width="1.7"/>
<line x1="173.9" y1="84.4" x2="182.9" y2="84.4" stroke="#ff4500" stroke-width="2.2"/>
<line x1="173.9" y1="115" x2="182.9" y2="115" stroke="#ff4500" stroke-width="2.2"/>
<line x1="162.5" y1="95.1" x2="162.5" y2="104.3" stroke="#ff4500" stroke-width="2.2"/>
<line x1="194.3" y1="95.1" x2="194.3" y2="104.3" stroke="#ff4500" stroke-width="2.2"/>
<circle cx="178.4" cy="99.7" r="5.55" fill="#ff4500" stroke="#000" stroke-width="2.3"/>
<text x="215.7" y="111.5" font-size="32.5" text-anchor="start">PN 0.2-12 keV (x1.5)</text>
<text x="528.85" y="706" font-size="39.1" text-anchor="middle">Time [s]</text>
<text transform="translate(50,318.2) rotate(-90)" font-size="39.1" text-anchor="middle">Count rate [counts s<tspan font-size="27.4" dx="2.4" dy="-16.8">−1</tspan><tspan dx="1.4" dy="16.8">]</tspan></text>
<line x1="1169.18" y1="10.1" x2="1169.18" y2="623.4" stroke="#b0b0b0" stroke-width="1.9" stroke-dasharray="6.86 2.925"/>
<line x1="1280.6" y1="10.1" x2="1280.6" y2="623.4" stroke="#b0b0b0" stroke-width="1.9" stroke-dasharray="6.86 2.925"/>
<line x1="1392.02" y1="10.1" x2="1392.02" y2="623.4" stroke="#b0b0b0" stroke-width="1.9" stroke-dasharray="6.86 2.925"/>
<line x1="1503.44" y1="10.1" x2="1503.44" y2="623.4" stroke="#b0b0b0" stroke-width="1.9" stroke-dasharray="6.86 2.925"/>
<line x1="1614.86" y1="10.1" x2="1614.86" y2="623.4" stroke="#b0b0b0" stroke-width="1.9" stroke-dasharray="6.86 2.925"/>
<line x1="1726.28" y1="10.1" x2="1726.28" y2="623.4" stroke="#b0b0b0" stroke-width="1.9" stroke-dasharray="6.86 2.925"/>
<line x1="1837.7" y1="10.1" x2="1837.7" y2="623.4" stroke="#b0b0b0" stroke-width="1.9" stroke-dasharray="6.86 2.925"/>
<line x1="1949.12" y1="10.1" x2="1949.12" y2="623.4" stroke="#b0b0b0" stroke-width="1.9" stroke-dasharray="6.86 2.925"/>
<line x1="1146.9" y1="594.2" x2="1971.4" y2="594.2" stroke="#b0b0b0" stroke-width="1.9" stroke-dasharray="6.86 2.925"/>
<line x1="1146.9" y1="477.38" x2="1971.4" y2="477.38" stroke="#b0b0b0" stroke-width="1.9" stroke-dasharray="6.86 2.925"/>
<line x1="1146.9" y1="360.56" x2="1971.4" y2="360.56" stroke="#b0b0b0" stroke-width="1.9" stroke-dasharray="6.86 2.925"/>
<line x1="1146.9" y1="243.74" x2="1971.4" y2="243.74" stroke="#b0b0b0" stroke-width="1.9" stroke-dasharray="6.86 2.925"/>
<line x1="1146.9" y1="126.92" x2="1971.4" y2="126.92" stroke="#b0b0b0" stroke-width="1.9" stroke-dasharray="6.86 2.925"/>
<line x1="1146.9" y1="10.1" x2="1971.4" y2="10.1" stroke="#b0b0b0" stroke-width="1.9" stroke-dasharray="6.86 2.925"/>
<line x1="1157.68" y1="334.7" x2="1180.68" y2="334.7" stroke="#000" stroke-width="2.2"/>
<line x1="1157.68" y1="421.9" x2="1180.68" y2="421.9" stroke="#000" stroke-width="2.2"/>
<line x1="1158.04" y1="366.8" x2="1158.04" y2="389.8" stroke="#000" stroke-width="2.2"/>
<line x1="1180.33" y1="366.8" x2="1180.33" y2="389.8" stroke="#000" stroke-width="2.2"/>
<line x1="1179.97" y1="338.9" x2="1202.97" y2="338.9" stroke="#000" stroke-width="2.2"/>
<line x1="1179.97" y1="441.7" x2="1202.97" y2="441.7" stroke="#000" stroke-width="2.2"/>
<line x1="1180.33" y1="378.8" x2="1180.33" y2="401.8" stroke="#000" stroke-width="2.2"/>
<line x1="1202.61" y1="378.8" x2="1202.61" y2="401.8" stroke="#000" stroke-width="2.2"/>
<line x1="1202.25" y1="213.1" x2="1225.25" y2="213.1" stroke="#000" stroke-width="2.2"/>
<line x1="1202.25" y1="358.5" x2="1225.25" y2="358.5" stroke="#000" stroke-width="2.2"/>
<line x1="1202.61" y1="274.3" x2="1202.61" y2="297.3" stroke="#000" stroke-width="2.2"/>
<line x1="1224.89" y1="274.3" x2="1224.89" y2="297.3" stroke="#000" stroke-width="2.2"/>
<line x1="1224.54" y1="224.2" x2="1247.54" y2="224.2" stroke="#000" stroke-width="2.2"/>
<line x1="1224.54" y1="330.4" x2="1247.54" y2="330.4" stroke="#000" stroke-width="2.2"/>
<line x1="1224.89" y1="265.8" x2="1224.89" y2="288.8" stroke="#000" stroke-width="2.2"/>
<line x1="1247.18" y1="265.8" x2="1247.18" y2="288.8" stroke="#000" stroke-width="2.2"/>
<line x1="1246.82" y1="158.8" x2="1269.82" y2="158.8" stroke="#000" stroke-width="2.2"/>
<line x1="1246.82" y1="279.6" x2="1269.82" y2="279.6" stroke="#000" stroke-width="2.2"/>
<line x1="1247.18" y1="207.7" x2="1247.18" y2="230.7" stroke="#000" stroke-width="2.2"/>
<line x1="1269.46" y1="207.7" x2="1269.46" y2="230.7" stroke="#000" stroke-width="2.2"/>
<line x1="1269.1" y1="406.8" x2="1292.1" y2="406.8" stroke="#000" stroke-width="2.2"/>
<line x1="1269.1" y1="561.4" x2="1292.1" y2="561.4" stroke="#000" stroke-width="2.2"/>
<line x1="1269.46" y1="472.6" x2="1269.46" y2="495.6" stroke="#000" stroke-width="2.2"/>
<line x1="1291.74" y1="472.6" x2="1291.74" y2="495.6" stroke="#000" stroke-width="2.2"/>
<line x1="1291.39" y1="376.3" x2="1314.39" y2="376.3" stroke="#000" stroke-width="2.2"/>
<line x1="1291.39" y1="472.9" x2="1314.39" y2="472.9" stroke="#000" stroke-width="2.2"/>
<line x1="1291.74" y1="413.1" x2="1291.74" y2="436.1" stroke="#000" stroke-width="2.2"/>
<line x1="1314.03" y1="413.1" x2="1314.03" y2="436.1" stroke="#000" stroke-width="2.2"/>
<line x1="1313.67" y1="413.8" x2="1336.67" y2="413.8" stroke="#000" stroke-width="2.2"/>
<line x1="1313.67" y1="524" x2="1336.67" y2="524" stroke="#000" stroke-width="2.2"/>
<line x1="1314.03" y1="457.4" x2="1314.03" y2="480.4" stroke="#000" stroke-width="2.2"/>
<line x1="1336.31" y1="457.4" x2="1336.31" y2="480.4" stroke="#000" stroke-width="2.2"/>
<line x1="1335.95" y1="372.2" x2="1358.95" y2="372.2" stroke="#000" stroke-width="2.2"/>
<line x1="1335.95" y1="565.6" x2="1358.95" y2="565.6" stroke="#000" stroke-width="2.2"/>
<line x1="1336.31" y1="457.4" x2="1336.31" y2="480.4" stroke="#000" stroke-width="2.2"/>
<line x1="1358.6" y1="457.4" x2="1358.6" y2="480.4" stroke="#000" stroke-width="2.2"/>
<line x1="1358.24" y1="107" x2="1381.24" y2="107" stroke="#000" stroke-width="2.2"/>
<line x1="1358.24" y1="242.8" x2="1381.24" y2="242.8" stroke="#000" stroke-width="2.2"/>
<line x1="1358.6" y1="163.4" x2="1358.6" y2="186.4" stroke="#000" stroke-width="2.2"/>
<line x1="1380.88" y1="163.4" x2="1380.88" y2="186.4" stroke="#000" stroke-width="2.2"/>
<line x1="1380.52" y1="302.4" x2="1403.52" y2="302.4" stroke="#000" stroke-width="2.2"/>
<line x1="1380.52" y1="407" x2="1403.52" y2="407" stroke="#000" stroke-width="2.2"/>
<line x1="1380.88" y1="343.2" x2="1380.88" y2="366.2" stroke="#000" stroke-width="2.2"/>
<line x1="1403.16" y1="343.2" x2="1403.16" y2="366.2" stroke="#000" stroke-width="2.2"/>
<line x1="1402.81" y1="202.7" x2="1425.81" y2="202.7" stroke="#000" stroke-width="2.2"/>
<line x1="1402.81" y1="348.7" x2="1425.81" y2="348.7" stroke="#000" stroke-width="2.2"/>
<line x1="1403.16" y1="264.2" x2="1403.16" y2="287.2" stroke="#000" stroke-width="2.2"/>
<line x1="1425.45" y1="264.2" x2="1425.45" y2="287.2" stroke="#000" stroke-width="2.2"/>
<line x1="1425.09" y1="201.5" x2="1448.09" y2="201.5" stroke="#000" stroke-width="2.2"/>
<line x1="1425.09" y1="337.1" x2="1448.09" y2="337.1" stroke="#000" stroke-width="2.2"/>
<line x1="1425.45" y1="257.8" x2="1425.45" y2="280.8" stroke="#000" stroke-width="2.2"/>
<line x1="1447.73" y1="257.8" x2="1447.73" y2="280.8" stroke="#000" stroke-width="2.2"/>
<line x1="1447.37" y1="383.6" x2="1470.37" y2="383.6" stroke="#000" stroke-width="2.2"/>
<line x1="1447.37" y1="461.2" x2="1470.37" y2="461.2" stroke="#000" stroke-width="2.2"/>
<line x1="1447.73" y1="410.9" x2="1447.73" y2="433.9" stroke="#000" stroke-width="2.2"/>
<line x1="1470.01" y1="410.9" x2="1470.01" y2="433.9" stroke="#000" stroke-width="2.2"/>
<line x1="1469.66" y1="324.3" x2="1492.66" y2="324.3" stroke="#000" stroke-width="2.2"/>
<line x1="1469.66" y1="445.3" x2="1492.66" y2="445.3" stroke="#000" stroke-width="2.2"/>
<line x1="1470.01" y1="373.3" x2="1470.01" y2="396.3" stroke="#000" stroke-width="2.2"/>
<line x1="1492.3" y1="373.3" x2="1492.3" y2="396.3" stroke="#000" stroke-width="2.2"/>
<line x1="1491.94" y1="208.7" x2="1514.94" y2="208.7" stroke="#000" stroke-width="2.2"/>
<line x1="1491.94" y1="351.5" x2="1514.94" y2="351.5" stroke="#000" stroke-width="2.2"/>
<line x1="1492.3" y1="268.6" x2="1492.3" y2="291.6" stroke="#000" stroke-width="2.2"/>
<line x1="1514.58" y1="268.6" x2="1514.58" y2="291.6" stroke="#000" stroke-width="2.2"/>
<line x1="1514.22" y1="184.7" x2="1537.22" y2="184.7" stroke="#000" stroke-width="2.2"/>
<line x1="1514.22" y1="294.5" x2="1537.22" y2="294.5" stroke="#000" stroke-width="2.2"/>
<line x1="1514.58" y1="228.1" x2="1514.58" y2="251.1" stroke="#000" stroke-width="2.2"/>
<line x1="1536.87" y1="228.1" x2="1536.87" y2="251.1" stroke="#000" stroke-width="2.2"/>
<line x1="1536.51" y1="277.2" x2="1559.51" y2="277.2" stroke="#000" stroke-width="2.2"/>
<line x1="1536.51" y1="385.2" x2="1559.51" y2="385.2" stroke="#000" stroke-width="2.2"/>
<line x1="1536.87" y1="319.7" x2="1536.87" y2="342.7" stroke="#000" stroke-width="2.2"/>
<line x1="1559.15" y1="319.7" x2="1559.15" y2="342.7" stroke="#000" stroke-width="2.2"/>
<line x1="1558.79" y1="251.8" x2="1581.79" y2="251.8" stroke="#000" stroke-width="2.2"/>
<line x1="1558.79" y1="382.8" x2="1581.79" y2="382.8" stroke="#000" stroke-width="2.2"/>
<line x1="1559.15" y1="305.8" x2="1559.15" y2="328.8" stroke="#000" stroke-width="2.2"/>
<line x1="1581.43" y1="305.8" x2="1581.43" y2="328.8" stroke="#000" stroke-width="2.2"/>
<line x1="1581.08" y1="383.4" x2="1604.08" y2="383.4" stroke="#000" stroke-width="2.2"/>
<line x1="1581.08" y1="478.4" x2="1604.08" y2="478.4" stroke="#000" stroke-width="2.2"/>
<line x1="1581.43" y1="419.4" x2="1581.43" y2="442.4" stroke="#000" stroke-width="2.2"/>
<line x1="1603.72" y1="419.4" x2="1603.72" y2="442.4" stroke="#000" stroke-width="2.2"/>
<line x1="1603.36" y1="372.8" x2="1626.36" y2="372.8" stroke="#000" stroke-width="2.2"/>
<line x1="1603.36" y1="467.8" x2="1626.36" y2="467.8" stroke="#000" stroke-width="2.2"/>
<line x1="1603.72" y1="408.8" x2="1603.72" y2="431.8" stroke="#000" stroke-width="2.2"/>
<line x1="1626" y1="408.8" x2="1626" y2="431.8" stroke="#000" stroke-width="2.2"/>
<line x1="1625.64" y1="404.7" x2="1648.64" y2="404.7" stroke="#000" stroke-width="2.2"/>
<line x1="1625.64" y1="527.1" x2="1648.64" y2="527.1" stroke="#000" stroke-width="2.2"/>
<line x1="1626" y1="454.4" x2="1626" y2="477.4" stroke="#000" stroke-width="2.2"/>
<line x1="1648.29" y1="454.4" x2="1648.29" y2="477.4" stroke="#000" stroke-width="2.2"/>
<line x1="1647.93" y1="433.4" x2="1670.93" y2="433.4" stroke="#000" stroke-width="2.2"/>
<line x1="1647.93" y1="529" x2="1670.93" y2="529" stroke="#000" stroke-width="2.2"/>
<line x1="1648.29" y1="469.7" x2="1648.29" y2="492.7" stroke="#000" stroke-width="2.2"/>
<line x1="1670.57" y1="469.7" x2="1670.57" y2="492.7" stroke="#000" stroke-width="2.2"/>
<line x1="1670.21" y1="425.1" x2="1693.21" y2="425.1" stroke="#000" stroke-width="2.2"/>
<line x1="1670.21" y1="509.5" x2="1693.21" y2="509.5" stroke="#000" stroke-width="2.2"/>
<line x1="1670.57" y1="455.8" x2="1670.57" y2="478.8" stroke="#000" stroke-width="2.2"/>
<line x1="1692.85" y1="455.8" x2="1692.85" y2="478.8" stroke="#000" stroke-width="2.2"/>
<line x1="1692.49" y1="145.1" x2="1715.49" y2="145.1" stroke="#000" stroke-width="2.2"/>
<line x1="1692.49" y1="300.9" x2="1715.49" y2="300.9" stroke="#000" stroke-width="2.2"/>
<line x1="1692.85" y1="211.5" x2="1692.85" y2="234.5" stroke="#000" stroke-width="2.2"/>
<line x1="1715.14" y1="211.5" x2="1715.14" y2="234.5" stroke="#000" stroke-width="2.2"/>
<line x1="1714.78" y1="228.2" x2="1737.78" y2="228.2" stroke="#000" stroke-width="2.2"/>
<line x1="1714.78" y1="354.6" x2="1737.78" y2="354.6" stroke="#000" stroke-width="2.2"/>
<line x1="1715.14" y1="279.9" x2="1715.14" y2="302.9" stroke="#000" stroke-width="2.2"/>
<line x1="1737.42" y1="279.9" x2="1737.42" y2="302.9" stroke="#000" stroke-width="2.2"/>
<line x1="1737.06" y1="306.6" x2="1760.06" y2="306.6" stroke="#000" stroke-width="2.2"/>
<line x1="1737.06" y1="403.6" x2="1760.06" y2="403.6" stroke="#000" stroke-width="2.2"/>
<line x1="1737.42" y1="343.6" x2="1737.42" y2="366.6" stroke="#000" stroke-width="2.2"/>
<line x1="1759.7" y1="343.6" x2="1759.7" y2="366.6" stroke="#000" stroke-width="2.2"/>
<line x1="1759.35" y1="389.4" x2="1782.35" y2="389.4" stroke="#000" stroke-width="2.2"/>
<line x1="1759.35" y1="538.4" x2="1782.35" y2="538.4" stroke="#000" stroke-width="2.2"/>
<line x1="1759.7" y1="452.4" x2="1759.7" y2="475.4" stroke="#000" stroke-width="2.2"/>
<line x1="1781.99" y1="452.4" x2="1781.99" y2="475.4" stroke="#000" stroke-width="2.2"/>
<line x1="1781.63" y1="223" x2="1804.63" y2="223" stroke="#000" stroke-width="2.2"/>
<line x1="1781.63" y1="370.2" x2="1804.63" y2="370.2" stroke="#000" stroke-width="2.2"/>
<line x1="1781.99" y1="285.1" x2="1781.99" y2="308.1" stroke="#000" stroke-width="2.2"/>
<line x1="1804.27" y1="285.1" x2="1804.27" y2="308.1" stroke="#000" stroke-width="2.2"/>
<line x1="1803.91" y1="345.3" x2="1826.91" y2="345.3" stroke="#000" stroke-width="2.2"/>
<line x1="1803.91" y1="445.3" x2="1826.91" y2="445.3" stroke="#000" stroke-width="2.2"/>
<line x1="1804.27" y1="383.8" x2="1804.27" y2="406.8" stroke="#000" stroke-width="2.2"/>
<line x1="1826.56" y1="383.8" x2="1826.56" y2="406.8" stroke="#000" stroke-width="2.2"/>
<line x1="1826.2" y1="185.4" x2="1849.2" y2="185.4" stroke="#000" stroke-width="2.2"/>
<line x1="1826.2" y1="337" x2="1849.2" y2="337" stroke="#000" stroke-width="2.2"/>
<line x1="1826.56" y1="249.7" x2="1826.56" y2="272.7" stroke="#000" stroke-width="2.2"/>
<line x1="1848.84" y1="249.7" x2="1848.84" y2="272.7" stroke="#000" stroke-width="2.2"/>
<line x1="1848.48" y1="254.3" x2="1871.48" y2="254.3" stroke="#000" stroke-width="2.2"/>
<line x1="1848.48" y1="392.3" x2="1871.48" y2="392.3" stroke="#000" stroke-width="2.2"/>
<line x1="1848.84" y1="311.8" x2="1848.84" y2="334.8" stroke="#000" stroke-width="2.2"/>
<line x1="1871.12" y1="311.8" x2="1871.12" y2="334.8" stroke="#000" stroke-width="2.2"/>
<line x1="1870.76" y1="204" x2="1893.76" y2="204" stroke="#000" stroke-width="2.2"/>
<line x1="1870.76" y1="326" x2="1893.76" y2="326" stroke="#000" stroke-width="2.2"/>
<line x1="1871.12" y1="253.5" x2="1871.12" y2="276.5" stroke="#000" stroke-width="2.2"/>
<line x1="1893.41" y1="253.5" x2="1893.41" y2="276.5" stroke="#000" stroke-width="2.2"/>
<line x1="1893.05" y1="321.3" x2="1916.05" y2="321.3" stroke="#000" stroke-width="2.2"/>
<line x1="1893.05" y1="422.1" x2="1916.05" y2="422.1" stroke="#000" stroke-width="2.2"/>
<line x1="1893.41" y1="360.2" x2="1893.41" y2="383.2" stroke="#000" stroke-width="2.2"/>
<line x1="1915.69" y1="360.2" x2="1915.69" y2="383.2" stroke="#000" stroke-width="2.2"/>
<line x1="1915.33" y1="240.6" x2="1938.33" y2="240.6" stroke="#000" stroke-width="2.2"/>
<line x1="1915.33" y1="379.6" x2="1938.33" y2="379.6" stroke="#000" stroke-width="2.2"/>
<line x1="1915.69" y1="298.6" x2="1915.69" y2="321.6" stroke="#000" stroke-width="2.2"/>
<line x1="1937.97" y1="298.6" x2="1937.97" y2="321.6" stroke="#000" stroke-width="2.2"/>
<line x1="1937.62" y1="316.5" x2="1960.62" y2="316.5" stroke="#000" stroke-width="2.2"/>
<line x1="1937.62" y1="440.5" x2="1960.62" y2="440.5" stroke="#000" stroke-width="2.2"/>
<line x1="1937.97" y1="367" x2="1937.97" y2="390" stroke="#000" stroke-width="2.2"/>
<line x1="1960.26" y1="367" x2="1960.26" y2="390" stroke="#000" stroke-width="2.2"/>
<line x1="1146.9" y1="365.2" x2="1971.4" y2="365.2" stroke="#0000ff" stroke-width="4"/>
<line x1="1169.18" y1="334.7" x2="1169.18" y2="421.9" stroke="#000" stroke-width="3"/>
<line x1="1158.04" y1="378.3" x2="1180.33" y2="378.3" stroke="#000" stroke-width="3"/>
<line x1="1191.47" y1="338.9" x2="1191.47" y2="441.7" stroke="#000" stroke-width="3"/>
<line x1="1180.33" y1="390.3" x2="1202.61" y2="390.3" stroke="#000" stroke-width="3"/>
<line x1="1213.75" y1="213.1" x2="1213.75" y2="358.5" stroke="#000" stroke-width="3"/>
<line x1="1202.61" y1="285.8" x2="1224.89" y2="285.8" stroke="#000" stroke-width="3"/>
<line x1="1236.04" y1="224.2" x2="1236.04" y2="330.4" stroke="#000" stroke-width="3"/>
<line x1="1224.89" y1="277.3" x2="1247.18" y2="277.3" stroke="#000" stroke-width="3"/>
<line x1="1258.32" y1="158.8" x2="1258.32" y2="279.6" stroke="#000" stroke-width="3"/>
<line x1="1247.18" y1="219.2" x2="1269.46" y2="219.2" stroke="#000" stroke-width="3"/>
<line x1="1280.6" y1="406.8" x2="1280.6" y2="561.4" stroke="#000" stroke-width="3"/>
<line x1="1269.46" y1="484.1" x2="1291.74" y2="484.1" stroke="#000" stroke-width="3"/>
<line x1="1302.89" y1="376.3" x2="1302.89" y2="472.9" stroke="#000" stroke-width="3"/>
<line x1="1291.74" y1="424.6" x2="1314.03" y2="424.6" stroke="#000" stroke-width="3"/>
<line x1="1325.17" y1="413.8" x2="1325.17" y2="524" stroke="#000" stroke-width="3"/>
<line x1="1314.03" y1="468.9" x2="1336.31" y2="468.9" stroke="#000" stroke-width="3"/>
<line x1="1347.45" y1="372.2" x2="1347.45" y2="565.6" stroke="#000" stroke-width="3"/>
<line x1="1336.31" y1="468.9" x2="1358.6" y2="468.9" stroke="#000" stroke-width="3"/>
<line x1="1369.74" y1="107" x2="1369.74" y2="242.8" stroke="#000" stroke-width="3"/>
<line x1="1358.6" y1="174.9" x2="1380.88" y2="174.9" stroke="#000" stroke-width="3"/>
<line x1="1392.02" y1="302.4" x2="1392.02" y2="407" stroke="#000" stroke-width="3"/>
<line x1="1380.88" y1="354.7" x2="1403.16" y2="354.7" stroke="#000" stroke-width="3"/>
<line x1="1414.31" y1="202.7" x2="1414.31" y2="348.7" stroke="#000" stroke-width="3"/>
<line x1="1403.16" y1="275.7" x2="1425.45" y2="275.7" stroke="#000" stroke-width="3"/>
<line x1="1436.59" y1="201.5" x2="1436.59" y2="337.1" stroke="#000" stroke-width="3"/>
<line x1="1425.45" y1="269.3" x2="1447.73" y2="269.3" stroke="#000" stroke-width="3"/>
<line x1="1458.87" y1="383.6" x2="1458.87" y2="461.2" stroke="#000" stroke-width="3"/>
<line x1="1447.73" y1="422.4" x2="1470.01" y2="422.4" stroke="#000" stroke-width="3"/>
<line x1="1481.16" y1="324.3" x2="1481.16" y2="445.3" stroke="#000" stroke-width="3"/>
<line x1="1470.01" y1="384.8" x2="1492.3" y2="384.8" stroke="#000" stroke-width="3"/>
<line x1="1503.44" y1="208.7" x2="1503.44" y2="351.5" stroke="#000" stroke-width="3"/>
<line x1="1492.3" y1="280.1" x2="1514.58" y2="280.1" stroke="#000" stroke-width="3"/>
<line x1="1525.72" y1="184.7" x2="1525.72" y2="294.5" stroke="#000" stroke-width="3"/>
<line x1="1514.58" y1="239.6" x2="1536.87" y2="239.6" stroke="#000" stroke-width="3"/>
<line x1="1548.01" y1="277.2" x2="1548.01" y2="385.2" stroke="#000" stroke-width="3"/>
<line x1="1536.87" y1="331.2" x2="1559.15" y2="331.2" stroke="#000" stroke-width="3"/>
<line x1="1570.29" y1="251.8" x2="1570.29" y2="382.8" stroke="#000" stroke-width="3"/>
<line x1="1559.15" y1="317.3" x2="1581.43" y2="317.3" stroke="#000" stroke-width="3"/>
<line x1="1592.58" y1="383.4" x2="1592.58" y2="478.4" stroke="#000" stroke-width="3"/>
<line x1="1581.43" y1="430.9" x2="1603.72" y2="430.9" stroke="#000" stroke-width="3"/>
<line x1="1614.86" y1="372.8" x2="1614.86" y2="467.8" stroke="#000" stroke-width="3"/>
<line x1="1603.72" y1="420.3" x2="1626" y2="420.3" stroke="#000" stroke-width="3"/>
<line x1="1637.14" y1="404.7" x2="1637.14" y2="527.1" stroke="#000" stroke-width="3"/>
<line x1="1626" y1="465.9" x2="1648.29" y2="465.9" stroke="#000" stroke-width="3"/>
<line x1="1659.43" y1="433.4" x2="1659.43" y2="529" stroke="#000" stroke-width="3"/>
<line x1="1648.29" y1="481.2" x2="1670.57" y2="481.2" stroke="#000" stroke-width="3"/>
<line x1="1681.71" y1="425.1" x2="1681.71" y2="509.5" stroke="#000" stroke-width="3"/>
<line x1="1670.57" y1="467.3" x2="1692.85" y2="467.3" stroke="#000" stroke-width="3"/>
<line x1="1703.99" y1="145.1" x2="1703.99" y2="300.9" stroke="#000" stroke-width="3"/>
<line x1="1692.85" y1="223" x2="1715.14" y2="223" stroke="#000" stroke-width="3"/>
<line x1="1726.28" y1="228.2" x2="1726.28" y2="354.6" stroke="#000" stroke-width="3"/>
<line x1="1715.14" y1="291.4" x2="1737.42" y2="291.4" stroke="#000" stroke-width="3"/>
<line x1="1748.56" y1="306.6" x2="1748.56" y2="403.6" stroke="#000" stroke-width="3"/>
<line x1="1737.42" y1="355.1" x2="1759.7" y2="355.1" stroke="#000" stroke-width="3"/>
<line x1="1770.85" y1="389.4" x2="1770.85" y2="538.4" stroke="#000" stroke-width="3"/>
<line x1="1759.7" y1="463.9" x2="1781.99" y2="463.9" stroke="#000" stroke-width="3"/>
<line x1="1793.13" y1="223" x2="1793.13" y2="370.2" stroke="#000" stroke-width="3"/>
<line x1="1781.99" y1="296.6" x2="1804.27" y2="296.6" stroke="#000" stroke-width="3"/>
<line x1="1815.41" y1="345.3" x2="1815.41" y2="445.3" stroke="#000" stroke-width="3"/>
<line x1="1804.27" y1="395.3" x2="1826.56" y2="395.3" stroke="#000" stroke-width="3"/>
<line x1="1837.7" y1="185.4" x2="1837.7" y2="337" stroke="#000" stroke-width="3"/>
<line x1="1826.56" y1="261.2" x2="1848.84" y2="261.2" stroke="#000" stroke-width="3"/>
<line x1="1859.98" y1="254.3" x2="1859.98" y2="392.3" stroke="#000" stroke-width="3"/>
<line x1="1848.84" y1="323.3" x2="1871.12" y2="323.3" stroke="#000" stroke-width="3"/>
<line x1="1882.26" y1="204" x2="1882.26" y2="326" stroke="#000" stroke-width="3"/>
<line x1="1871.12" y1="265" x2="1893.41" y2="265" stroke="#000" stroke-width="3"/>
<line x1="1904.55" y1="321.3" x2="1904.55" y2="422.1" stroke="#000" stroke-width="3"/>
<line x1="1893.41" y1="371.7" x2="1915.69" y2="371.7" stroke="#000" stroke-width="3"/>
<line x1="1926.83" y1="240.6" x2="1926.83" y2="379.6" stroke="#000" stroke-width="3"/>
<line x1="1915.69" y1="310.1" x2="1937.97" y2="310.1" stroke="#000" stroke-width="3"/>
<line x1="1949.12" y1="316.5" x2="1949.12" y2="440.5" stroke="#000" stroke-width="3"/>
<line x1="1937.97" y1="378.5" x2="1960.26" y2="378.5" stroke="#000" stroke-width="3"/>
<circle cx="1169.18" cy="378.3" r="6.35" fill="#000"/>
<circle cx="1191.47" cy="390.3" r="6.35" fill="#000"/>
<circle cx="1213.75" cy="285.8" r="6.35" fill="#000"/>
<circle cx="1236.04" cy="277.3" r="6.35" fill="#000"/>
<circle cx="1258.32" cy="219.2" r="6.35" fill="#000"/>
<circle cx="1280.6" cy="484.1" r="6.35" fill="#000"/>
<circle cx="1302.89" cy="424.6" r="6.35" fill="#000"/>
<circle cx="1325.17" cy="468.9" r="6.35" fill="#000"/>
<circle cx="1347.45" cy="468.9" r="6.35" fill="#000"/>
<circle cx="1369.74" cy="174.9" r="6.35" fill="#000"/>
<circle cx="1392.02" cy="354.7" r="6.35" fill="#000"/>
<circle cx="1414.31" cy="275.7" r="6.35" fill="#000"/>
<circle cx="1436.59" cy="269.3" r="6.35" fill="#000"/>
<circle cx="1458.87" cy="422.4" r="6.35" fill="#000"/>
<circle cx="1481.16" cy="384.8" r="6.35" fill="#000"/>
<circle cx="1503.44" cy="280.1" r="6.35" fill="#000"/>
<circle cx="1525.72" cy="239.6" r="6.35" fill="#000"/>
<circle cx="1548.01" cy="331.2" r="6.35" fill="#000"/>
<circle cx="1570.29" cy="317.3" r="6.35" fill="#000"/>
<circle cx="1592.58" cy="430.9" r="6.35" fill="#000"/>
<circle cx="1614.86" cy="420.3" r="6.35" fill="#000"/>
<circle cx="1637.14" cy="465.9" r="6.35" fill="#000"/>
<circle cx="1659.43" cy="481.2" r="6.35" fill="#000"/>
<circle cx="1681.71" cy="467.3" r="6.35" fill="#000"/>
<circle cx="1703.99" cy="223" r="6.35" fill="#000"/>
<circle cx="1726.28" cy="291.4" r="6.35" fill="#000"/>
<circle cx="1748.56" cy="355.1" r="6.35" fill="#000"/>
<circle cx="1770.85" cy="463.9" r="6.35" fill="#000"/>
<circle cx="1793.13" cy="296.6" r="6.35" fill="#000"/>
<circle cx="1815.41" cy="395.3" r="6.35" fill="#000"/>
<circle cx="1837.7" cy="261.2" r="6.35" fill="#000"/>
<circle cx="1859.98" cy="323.3" r="6.35" fill="#000"/>
<circle cx="1882.26" cy="265" r="6.35" fill="#000"/>
<circle cx="1904.55" cy="371.7" r="6.35" fill="#000"/>
<circle cx="1926.83" cy="310.1" r="6.35" fill="#000"/>
<circle cx="1949.12" cy="378.5" r="6.35" fill="#000"/>
<rect x="1193" y="589" width="110.6" height="11" fill="#ff4500"/>
<text x="1314" y="606.6" font-size="32.5" text-anchor="start" font-weight="bold" fill="#ff4500">XMM Obs.</text>
<line x1="1169.18" y1="623.7" x2="1169.18" y2="631.9" stroke="#000" stroke-width="2.1"/>
<text x="1169.18" y="661.5" font-size="27.78" text-anchor="middle">0</text>
<line x1="1280.6" y1="623.7" x2="1280.6" y2="631.9" stroke="#000" stroke-width="2.1"/>
<text x="1280.6" y="661.5" font-size="27.78" text-anchor="middle">20000</text>
<line x1="1392.02" y1="623.7" x2="1392.02" y2="631.9" stroke="#000" stroke-width="2.1"/>
<text x="1392.02" y="661.5" font-size="27.78" text-anchor="middle">40000</text>
<line x1="1503.44" y1="623.7" x2="1503.44" y2="631.9" stroke="#000" stroke-width="2.1"/>
<text x="1503.44" y="661.5" font-size="27.78" text-anchor="middle">60000</text>
<line x1="1614.86" y1="623.7" x2="1614.86" y2="631.9" stroke="#000" stroke-width="2.1"/>
<text x="1614.86" y="661.5" font-size="27.78" text-anchor="middle">80000</text>
<line x1="1726.28" y1="623.7" x2="1726.28" y2="631.9" stroke="#000" stroke-width="2.1"/>
<text x="1726.28" y="661.5" font-size="27.78" text-anchor="middle">100000</text>
<line x1="1837.7" y1="623.7" x2="1837.7" y2="631.9" stroke="#000" stroke-width="2.1"/>
<text x="1837.7" y="661.5" font-size="27.78" text-anchor="middle">120000</text>
<line x1="1949.12" y1="623.7" x2="1949.12" y2="631.9" stroke="#000" stroke-width="2.1"/>
<text x="1949.12" y="661.5" font-size="27.78" text-anchor="middle">140000</text>
<line x1="1147.05" y1="594.2" x2="1138.85" y2="594.2" stroke="#000" stroke-width="2.1"/>
<text x="1131.4" y="605.4" font-size="27.78" text-anchor="end">−0.02</text>
<line x1="1147.05" y1="477.38" x2="1138.85" y2="477.38" stroke="#000" stroke-width="2.1"/>
<text x="1131.4" y="488.58" font-size="27.78" text-anchor="end">0.00</text>
<line x1="1147.05" y1="360.56" x2="1138.85" y2="360.56" stroke="#000" stroke-width="2.1"/>
<text x="1131.4" y="371.76" font-size="27.78" text-anchor="end">0.02</text>
<line x1="1147.05" y1="243.74" x2="1138.85" y2="243.74" stroke="#000" stroke-width="2.1"/>
<text x="1131.4" y="254.94" font-size="27.78" text-anchor="end">0.04</text>
<line x1="1147.05" y1="126.92" x2="1138.85" y2="126.92" stroke="#000" stroke-width="2.1"/>
<text x="1131.4" y="138.12" font-size="27.78" text-anchor="end">0.06</text>
<line x1="1147.05" y1="10.1" x2="1138.85" y2="10.1" stroke="#000" stroke-width="2.1"/>
<text x="1131.4" y="21.3" font-size="27.78" text-anchor="end">0.08</text>
<rect x="1147.05" y="10" width="824.2" height="613.7" fill="none" stroke="#000" stroke-width="2"/>
<rect x="1162" y="24.4" width="383" height="60" fill="#fff"/>
<line x1="1197.3" y1="36.7" x2="1219.9" y2="36.7" stroke="#000" stroke-width="2.2"/>
<line x1="1197.3" y1="67.5" x2="1219.9" y2="67.5" stroke="#000" stroke-width="2.2"/>
<line x1="1192.2" y1="40.1" x2="1192.2" y2="64.1" stroke="#000" stroke-width="2.2"/>
<line x1="1225" y1="40.1" x2="1225" y2="64.1" stroke="#000" stroke-width="2.2"/>
<line x1="1208.6" y1="36.7" x2="1208.6" y2="67.5" stroke="#000" stroke-width="3"/>
<line x1="1192.2" y1="52.1" x2="1225" y2="52.1" stroke="#000" stroke-width="3"/>
<circle cx="1208.6" cy="52.1" r="6.35" fill="#000"/>
<text x="1245.7" y="63.6" font-size="32.5" text-anchor="start">NuSTAR 3-24 keV</text>
<text x="1559.15" y="705.6" font-size="39.1" text-anchor="middle">Time [s]</text>
<text transform="translate(1061.5,318.2) rotate(-90)" font-size="39.1" text-anchor="middle">Count rate [counts s<tspan font-size="27.4" dx="2.4" dy="-16.8">−1</tspan><tspan dx="1.4" dy="16.8">]</tspan></text>
</g></svg>
</body></html>
